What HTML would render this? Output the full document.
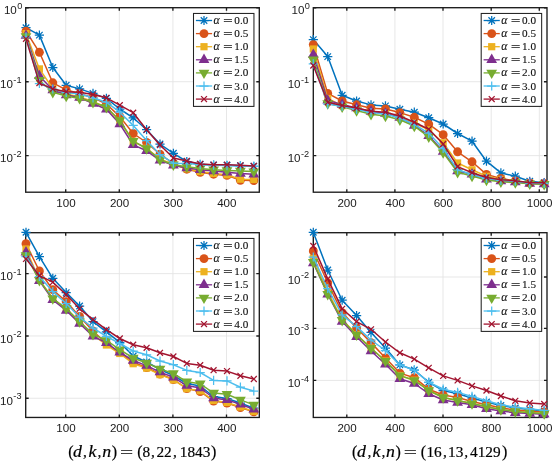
<!DOCTYPE html>
<html><head><meta charset="utf-8"><title>plots</title>
<style>
html,body{margin:0;padding:0;background:#fff}
svg{display:block}
.t{font-family:"Liberation Sans",sans-serif;font-size:11.6px;fill:#1a1a1a}
.s{font-family:"Liberation Sans",sans-serif;font-size:9.2px;fill:#1a1a1a}
.l{font-family:"Liberation Serif",serif;font-size:11.2px;fill:#111;stroke:#111;stroke-width:0.12px}
.a{font-style:italic;font-size:11.8px}
.e{font-size:13px}
.c{font-family:"Liberation Serif",serif;font-size:15.3px;fill:#000;stroke:#000;stroke-width:0.2px}
.p{font-size:16px}
.i{font-style:italic;font-size:16.2px}
</style></head><body>
<svg width="553" height="462" viewBox="0 0 553 462">
<rect width="553" height="462" fill="#fff"/>
<path d="M65.7 7.7V192.2" stroke="#e3e3e3" stroke-width="0.85" fill="none"/>
<path d="M119.3 7.7V192.2" stroke="#e3e3e3" stroke-width="0.85" fill="none"/>
<path d="M172.9 7.7V192.2" stroke="#e3e3e3" stroke-width="0.85" fill="none"/>
<path d="M226.5 7.7V192.2" stroke="#e3e3e3" stroke-width="0.85" fill="none"/>
<path d="M25.7 81.7H259.3" stroke="#e3e3e3" stroke-width="0.85" fill="none"/>
<path d="M25.7 155.6H259.3" stroke="#e3e3e3" stroke-width="0.85" fill="none"/>
<rect x="25.7" y="7.7" width="233.60000000000002" height="184.5" fill="none" stroke="#1c1c1c" stroke-width="1.35"/>
<path d="M65.7 192.2v-3.0M65.7 7.7v3.0" stroke="#1c1c1c" stroke-width="1.35" fill="none"/>
<text x="66.0" y="207.00" class="t" text-anchor="middle">100</text>
<path d="M119.3 192.2v-3.0M119.3 7.7v3.0" stroke="#1c1c1c" stroke-width="1.35" fill="none"/>
<text x="119.6" y="207.00" class="t" text-anchor="middle">200</text>
<path d="M172.9 192.2v-3.0M172.9 7.7v3.0" stroke="#1c1c1c" stroke-width="1.35" fill="none"/>
<text x="173.20000000000002" y="207.00" class="t" text-anchor="middle">300</text>
<path d="M226.5 192.2v-3.0M226.5 7.7v3.0" stroke="#1c1c1c" stroke-width="1.35" fill="none"/>
<text x="226.8" y="207.00" class="t" text-anchor="middle">400</text>
<path d="M25.7 7.7h3.0M259.3 7.7h-3.0" stroke="#1c1c1c" stroke-width="1.35" fill="none"/>
<text x="16.83" y="14.30" class="t" text-anchor="end">10</text>
<text x="22.30" y="8.90" class="s" text-anchor="end">0</text>
<path d="M25.7 81.7h3.0M259.3 81.7h-3.0" stroke="#1c1c1c" stroke-width="1.35" fill="none"/>
<text x="12.97" y="88.30" class="t" text-anchor="end">10</text>
<text x="21.50" y="82.90" class="s" text-anchor="end">-1</text>
<path d="M25.7 155.6h3.0M259.3 155.6h-3.0" stroke="#1c1c1c" stroke-width="1.35" fill="none"/>
<text x="12.97" y="162.20" class="t" text-anchor="end">10</text>
<text x="21.50" y="156.80" class="s" text-anchor="end">-2</text>
<polyline points="26.0,27.7 39.4,35.1 52.8,67.5 66.2,85.3 79.6,88.9 93.0,93.4 106.4,98.4 119.8,109 133.2,117.8 146.6,129.7 160.0,144 173.4,153.3 186.8,161.5 200.2,164.3 213.6,165 227.0,165.3 240.4,165.8 253.8,166.3" fill="none" stroke="#0072BD" stroke-width="1.5" stroke-linejoin="round"/>
<path d="M21.4 27.7H30.6M26.0 23.1V32.3M22.75 24.45L29.25 30.95M22.75 30.95L29.25 24.45" stroke="#0072BD" stroke-width="1.25" fill="none"/>
<path d="M34.8 35.1H44.0M39.4 30.5V39.7M36.15 31.85L42.65 38.35M36.15 38.35L42.65 31.85" stroke="#0072BD" stroke-width="1.25" fill="none"/>
<path d="M48.199999999999996 67.5H57.4M52.8 62.9V72.1M49.55 64.25L56.05 70.75M49.55 70.75L56.05 64.25" stroke="#0072BD" stroke-width="1.25" fill="none"/>
<path d="M61.6 85.3H70.8M66.2 80.7V89.89999999999999M62.95 82.05L69.45 88.55M62.95 88.55L69.45 82.05" stroke="#0072BD" stroke-width="1.25" fill="none"/>
<path d="M75.0 88.9H84.19999999999999M79.6 84.30000000000001V93.5M76.35 85.65L82.85 92.15M76.35 92.15L82.85 85.65" stroke="#0072BD" stroke-width="1.25" fill="none"/>
<path d="M88.4 93.4H97.6M93.0 88.80000000000001V98.0M89.75 90.15L96.25 96.65M89.75 96.65L96.25 90.15" stroke="#0072BD" stroke-width="1.25" fill="none"/>
<path d="M101.80000000000001 98.4H111.0M106.4 93.80000000000001V103.0M103.15 95.15L109.65 101.65M103.15 101.65L109.65 95.15" stroke="#0072BD" stroke-width="1.25" fill="none"/>
<path d="M115.2 109H124.39999999999999M119.8 104.4V113.6M116.55 105.75L123.05 112.25M116.55 112.25L123.05 105.75" stroke="#0072BD" stroke-width="1.25" fill="none"/>
<path d="M128.6 117.8H137.79999999999998M133.2 113.2V122.39999999999999M129.95 114.55L136.45 121.05M129.95 121.05L136.45 114.55" stroke="#0072BD" stroke-width="1.25" fill="none"/>
<path d="M142.0 129.7H151.2M146.6 125.1V134.29999999999998M143.35 126.44999999999999L149.85 132.95M143.35 132.95L149.85 126.44999999999999" stroke="#0072BD" stroke-width="1.25" fill="none"/>
<path d="M155.4 144H164.6M160.0 139.4V148.6M156.75 140.75L163.25 147.25M156.75 147.25L163.25 140.75" stroke="#0072BD" stroke-width="1.25" fill="none"/>
<path d="M168.8 153.3H178.0M173.4 148.70000000000002V157.9M170.15 150.05L176.65 156.55M170.15 156.55L176.65 150.05" stroke="#0072BD" stroke-width="1.25" fill="none"/>
<path d="M182.20000000000002 161.5H191.4M186.8 156.9V166.1M183.55 158.25L190.05 164.75M183.55 164.75L190.05 158.25" stroke="#0072BD" stroke-width="1.25" fill="none"/>
<path d="M195.6 164.3H204.79999999999998M200.2 159.70000000000002V168.9M196.95 161.05L203.45 167.55M196.95 167.55L203.45 161.05" stroke="#0072BD" stroke-width="1.25" fill="none"/>
<path d="M209.0 165H218.2M213.6 160.4V169.6M210.35 161.75L216.85 168.25M210.35 168.25L216.85 161.75" stroke="#0072BD" stroke-width="1.25" fill="none"/>
<path d="M222.4 165.3H231.6M227.0 160.70000000000002V169.9M223.75 162.05L230.25 168.55M223.75 168.55L230.25 162.05" stroke="#0072BD" stroke-width="1.25" fill="none"/>
<path d="M235.8 165.8H245.0M240.4 161.20000000000002V170.4M237.15 162.55L243.65 169.05M237.15 169.05L243.65 162.55" stroke="#0072BD" stroke-width="1.25" fill="none"/>
<path d="M249.20000000000002 166.3H258.40000000000003M253.8 161.70000000000002V170.9M250.55 163.05L257.05 169.55M250.55 169.55L257.05 163.05" stroke="#0072BD" stroke-width="1.25" fill="none"/>
<polyline points="26.0,31.2 39.4,52.3 52.8,82.8 66.2,89.8 79.6,93.8 93.0,97.5 106.4,104 119.8,116.6 133.2,133.5 146.6,142.5 160.0,154.2 173.4,163.5 186.8,169.2 200.2,172.3 213.6,174.2 227.0,175.4 240.4,180.3 253.8,180.5" fill="none" stroke="#D95319" stroke-width="1.5" stroke-linejoin="round"/>
<circle cx="26.0" cy="31.2" r="4.45" fill="#D95319"/>
<circle cx="39.4" cy="52.3" r="4.45" fill="#D95319"/>
<circle cx="52.8" cy="82.8" r="4.45" fill="#D95319"/>
<circle cx="66.2" cy="89.8" r="4.45" fill="#D95319"/>
<circle cx="79.6" cy="93.8" r="4.45" fill="#D95319"/>
<circle cx="93.0" cy="97.5" r="4.45" fill="#D95319"/>
<circle cx="106.4" cy="104" r="4.45" fill="#D95319"/>
<circle cx="119.8" cy="116.6" r="4.45" fill="#D95319"/>
<circle cx="133.2" cy="133.5" r="4.45" fill="#D95319"/>
<circle cx="146.6" cy="142.5" r="4.45" fill="#D95319"/>
<circle cx="160.0" cy="154.2" r="4.45" fill="#D95319"/>
<circle cx="173.4" cy="163.5" r="4.45" fill="#D95319"/>
<circle cx="186.8" cy="169.2" r="4.45" fill="#D95319"/>
<circle cx="200.2" cy="172.3" r="4.45" fill="#D95319"/>
<circle cx="213.6" cy="174.2" r="4.45" fill="#D95319"/>
<circle cx="227.0" cy="175.4" r="4.45" fill="#D95319"/>
<circle cx="240.4" cy="180.3" r="4.45" fill="#D95319"/>
<circle cx="253.8" cy="180.5" r="4.45" fill="#D95319"/>
<polyline points="26.0,33.6 39.4,68.9 52.8,88.5 66.2,94 79.6,97 93.0,101.5 106.4,107.5 119.8,121 133.2,141.3 146.6,148.3 160.0,159 173.4,164.5 186.8,168.8 200.2,171.6 213.6,173.5 227.0,174.8 240.4,179.2 253.8,179.5" fill="none" stroke="#EDB120" stroke-width="1.5" stroke-linejoin="round"/>
<rect x="22.4" y="30.0" width="7.2" height="7.2" fill="#EDB120"/>
<rect x="35.8" y="65.30000000000001" width="7.2" height="7.2" fill="#EDB120"/>
<rect x="49.199999999999996" y="84.9" width="7.2" height="7.2" fill="#EDB120"/>
<rect x="62.6" y="90.4" width="7.2" height="7.2" fill="#EDB120"/>
<rect x="76.0" y="93.4" width="7.2" height="7.2" fill="#EDB120"/>
<rect x="89.4" y="97.9" width="7.2" height="7.2" fill="#EDB120"/>
<rect x="102.80000000000001" y="103.9" width="7.2" height="7.2" fill="#EDB120"/>
<rect x="116.2" y="117.4" width="7.2" height="7.2" fill="#EDB120"/>
<rect x="129.6" y="137.70000000000002" width="7.2" height="7.2" fill="#EDB120"/>
<rect x="143.0" y="144.70000000000002" width="7.2" height="7.2" fill="#EDB120"/>
<rect x="156.4" y="155.4" width="7.2" height="7.2" fill="#EDB120"/>
<rect x="169.8" y="160.9" width="7.2" height="7.2" fill="#EDB120"/>
<rect x="183.20000000000002" y="165.20000000000002" width="7.2" height="7.2" fill="#EDB120"/>
<rect x="196.6" y="168.0" width="7.2" height="7.2" fill="#EDB120"/>
<rect x="210.0" y="169.9" width="7.2" height="7.2" fill="#EDB120"/>
<rect x="223.4" y="171.20000000000002" width="7.2" height="7.2" fill="#EDB120"/>
<rect x="236.8" y="175.6" width="7.2" height="7.2" fill="#EDB120"/>
<rect x="250.20000000000002" y="175.9" width="7.2" height="7.2" fill="#EDB120"/>
<polyline points="26.0,35.6 39.4,75.9 52.8,90 66.2,95 79.6,97.5 93.0,103.5 106.4,109.2 119.8,124 133.2,144.9 146.6,150.8 160.0,160.4 173.4,165.2 186.8,168 200.2,169.8 213.6,171 227.0,172.3 240.4,173.5 253.8,174.2" fill="none" stroke="#7E2F8E" stroke-width="1.5" stroke-linejoin="round"/>
<path d="M26.0 29.400000000000002L31.4 38.800000000000004H20.6Z" fill="#7E2F8E"/>
<path d="M39.4 69.7L44.8 79.10000000000001H34.0Z" fill="#7E2F8E"/>
<path d="M52.8 83.8L58.199999999999996 93.2H47.4Z" fill="#7E2F8E"/>
<path d="M66.2 88.8L71.60000000000001 98.2H60.800000000000004Z" fill="#7E2F8E"/>
<path d="M79.6 91.3L85.0 100.7H74.19999999999999Z" fill="#7E2F8E"/>
<path d="M93.0 97.3L98.4 106.7H87.6Z" fill="#7E2F8E"/>
<path d="M106.4 103.0L111.80000000000001 112.4H101.0Z" fill="#7E2F8E"/>
<path d="M119.8 117.8L125.2 127.2H114.39999999999999Z" fill="#7E2F8E"/>
<path d="M133.2 138.70000000000002L138.6 148.1H127.79999999999998Z" fill="#7E2F8E"/>
<path d="M146.6 144.60000000000002L152.0 154.0H141.2Z" fill="#7E2F8E"/>
<path d="M160.0 154.20000000000002L165.4 163.6H154.6Z" fill="#7E2F8E"/>
<path d="M173.4 159.0L178.8 168.39999999999998H168.0Z" fill="#7E2F8E"/>
<path d="M186.8 161.8L192.20000000000002 171.2H181.4Z" fill="#7E2F8E"/>
<path d="M200.2 163.60000000000002L205.6 173.0H194.79999999999998Z" fill="#7E2F8E"/>
<path d="M213.6 164.8L219.0 174.2H208.2Z" fill="#7E2F8E"/>
<path d="M227.0 166.10000000000002L232.4 175.5H221.6Z" fill="#7E2F8E"/>
<path d="M240.4 167.3L245.8 176.7H235.0Z" fill="#7E2F8E"/>
<path d="M253.8 168.0L259.2 177.39999999999998H248.4Z" fill="#7E2F8E"/>
<polyline points="26.0,36.4 39.4,80.3 52.8,92.3 66.2,96 79.6,98.4 93.0,102.2 106.4,107.3 119.8,120.5 133.2,141.1 146.6,148.5 160.0,159.7 173.4,164.8 186.8,166.7 200.2,168.5 213.6,169.7 227.0,170.4 240.4,171 253.8,171.6" fill="none" stroke="#77AC30" stroke-width="1.5" stroke-linejoin="round"/>
<path d="M26.0 42.6L31.4 33.199999999999996H20.6Z" fill="#77AC30"/>
<path d="M39.4 86.5L44.8 77.1H34.0Z" fill="#77AC30"/>
<path d="M52.8 98.5L58.199999999999996 89.1H47.4Z" fill="#77AC30"/>
<path d="M66.2 102.2L71.60000000000001 92.8H60.800000000000004Z" fill="#77AC30"/>
<path d="M79.6 104.60000000000001L85.0 95.2H74.19999999999999Z" fill="#77AC30"/>
<path d="M93.0 108.4L98.4 99.0H87.6Z" fill="#77AC30"/>
<path d="M106.4 113.5L111.80000000000001 104.1H101.0Z" fill="#77AC30"/>
<path d="M119.8 126.7L125.2 117.3H114.39999999999999Z" fill="#77AC30"/>
<path d="M133.2 147.29999999999998L138.6 137.9H127.79999999999998Z" fill="#77AC30"/>
<path d="M146.6 154.7L152.0 145.3H141.2Z" fill="#77AC30"/>
<path d="M160.0 165.89999999999998L165.4 156.5H154.6Z" fill="#77AC30"/>
<path d="M173.4 171.0L178.8 161.60000000000002H168.0Z" fill="#77AC30"/>
<path d="M186.8 172.89999999999998L192.20000000000002 163.5H181.4Z" fill="#77AC30"/>
<path d="M200.2 174.7L205.6 165.3H194.79999999999998Z" fill="#77AC30"/>
<path d="M213.6 175.89999999999998L219.0 166.5H208.2Z" fill="#77AC30"/>
<path d="M227.0 176.6L232.4 167.20000000000002H221.6Z" fill="#77AC30"/>
<path d="M240.4 177.2L245.8 167.8H235.0Z" fill="#77AC30"/>
<path d="M253.8 177.79999999999998L259.2 168.4H248.4Z" fill="#77AC30"/>
<polyline points="26.0,36.9 39.4,83.5 52.8,89 66.2,92.5 79.6,94 93.0,97.8 106.4,102.2 119.8,112.2 133.2,125.4 146.6,140.6 160.0,154.6 173.4,163.2 186.8,163.5 200.2,164.6 213.6,165.2 227.0,165.6 240.4,166 253.8,166.4" fill="none" stroke="#4DBEEE" stroke-width="1.5" stroke-linejoin="round"/>
<path d="M21.4 36.9H30.6M26.0 32.3V41.5" stroke="#4DBEEE" stroke-width="1.25" fill="none"/>
<path d="M34.8 83.5H44.0M39.4 78.9V88.1" stroke="#4DBEEE" stroke-width="1.25" fill="none"/>
<path d="M48.199999999999996 89H57.4M52.8 84.4V93.6" stroke="#4DBEEE" stroke-width="1.25" fill="none"/>
<path d="M61.6 92.5H70.8M66.2 87.9V97.1" stroke="#4DBEEE" stroke-width="1.25" fill="none"/>
<path d="M75.0 94H84.19999999999999M79.6 89.4V98.6" stroke="#4DBEEE" stroke-width="1.25" fill="none"/>
<path d="M88.4 97.8H97.6M93.0 93.2V102.39999999999999" stroke="#4DBEEE" stroke-width="1.25" fill="none"/>
<path d="M101.80000000000001 102.2H111.0M106.4 97.60000000000001V106.8" stroke="#4DBEEE" stroke-width="1.25" fill="none"/>
<path d="M115.2 112.2H124.39999999999999M119.8 107.60000000000001V116.8" stroke="#4DBEEE" stroke-width="1.25" fill="none"/>
<path d="M128.6 125.4H137.79999999999998M133.2 120.80000000000001V130.0" stroke="#4DBEEE" stroke-width="1.25" fill="none"/>
<path d="M142.0 140.6H151.2M146.6 136.0V145.2" stroke="#4DBEEE" stroke-width="1.25" fill="none"/>
<path d="M155.4 154.6H164.6M160.0 150.0V159.2" stroke="#4DBEEE" stroke-width="1.25" fill="none"/>
<path d="M168.8 163.2H178.0M173.4 158.6V167.79999999999998" stroke="#4DBEEE" stroke-width="1.25" fill="none"/>
<path d="M182.20000000000002 163.5H191.4M186.8 158.9V168.1" stroke="#4DBEEE" stroke-width="1.25" fill="none"/>
<path d="M195.6 164.6H204.79999999999998M200.2 160.0V169.2" stroke="#4DBEEE" stroke-width="1.25" fill="none"/>
<path d="M209.0 165.2H218.2M213.6 160.6V169.79999999999998" stroke="#4DBEEE" stroke-width="1.25" fill="none"/>
<path d="M222.4 165.6H231.6M227.0 161.0V170.2" stroke="#4DBEEE" stroke-width="1.25" fill="none"/>
<path d="M235.8 166H245.0M240.4 161.4V170.6" stroke="#4DBEEE" stroke-width="1.25" fill="none"/>
<path d="M249.20000000000002 166.4H258.40000000000003M253.8 161.8V171.0" stroke="#4DBEEE" stroke-width="1.25" fill="none"/>
<polyline points="26.0,38.8 39.4,83.1 52.8,88.9 66.2,91.7 79.6,92.2 93.0,94.6 106.4,97.8 119.8,105.2 133.2,112.7 146.6,129.7 160.0,145 173.4,158 186.8,161 200.2,164 213.6,164.7 227.0,164.7 240.4,165.3 253.8,165.9" fill="none" stroke="#A2142F" stroke-width="1.5" stroke-linejoin="round"/>
<path d="M23.05 35.849999999999994L28.95 41.75M23.05 41.75L28.95 35.849999999999994" stroke="#A2142F" stroke-width="1.25" fill="none"/>
<path d="M36.449999999999996 80.14999999999999L42.35 86.05M36.449999999999996 86.05L42.35 80.14999999999999" stroke="#A2142F" stroke-width="1.25" fill="none"/>
<path d="M49.849999999999994 85.95L55.75 91.85000000000001M49.849999999999994 91.85000000000001L55.75 85.95" stroke="#A2142F" stroke-width="1.25" fill="none"/>
<path d="M63.25 88.75L69.15 94.65M63.25 94.65L69.15 88.75" stroke="#A2142F" stroke-width="1.25" fill="none"/>
<path d="M76.64999999999999 89.25L82.55 95.15M76.64999999999999 95.15L82.55 89.25" stroke="#A2142F" stroke-width="1.25" fill="none"/>
<path d="M90.05 91.64999999999999L95.95 97.55M90.05 97.55L95.95 91.64999999999999" stroke="#A2142F" stroke-width="1.25" fill="none"/>
<path d="M103.45 94.85L109.35000000000001 100.75M103.45 100.75L109.35000000000001 94.85" stroke="#A2142F" stroke-width="1.25" fill="none"/>
<path d="M116.85 102.25L122.75 108.15M116.85 108.15L122.75 102.25" stroke="#A2142F" stroke-width="1.25" fill="none"/>
<path d="M130.25 109.75L136.14999999999998 115.65M130.25 115.65L136.14999999999998 109.75" stroke="#A2142F" stroke-width="1.25" fill="none"/>
<path d="M143.65 126.74999999999999L149.54999999999998 132.64999999999998M143.65 132.64999999999998L149.54999999999998 126.74999999999999" stroke="#A2142F" stroke-width="1.25" fill="none"/>
<path d="M157.05 142.05L162.95 147.95M157.05 147.95L162.95 142.05" stroke="#A2142F" stroke-width="1.25" fill="none"/>
<path d="M170.45000000000002 155.05L176.35 160.95M170.45000000000002 160.95L176.35 155.05" stroke="#A2142F" stroke-width="1.25" fill="none"/>
<path d="M183.85000000000002 158.05L189.75 163.95M183.85000000000002 163.95L189.75 158.05" stroke="#A2142F" stroke-width="1.25" fill="none"/>
<path d="M197.25 161.05L203.14999999999998 166.95M197.25 166.95L203.14999999999998 161.05" stroke="#A2142F" stroke-width="1.25" fill="none"/>
<path d="M210.65 161.75L216.54999999999998 167.64999999999998M210.65 167.64999999999998L216.54999999999998 161.75" stroke="#A2142F" stroke-width="1.25" fill="none"/>
<path d="M224.05 161.75L229.95 167.64999999999998M224.05 167.64999999999998L229.95 161.75" stroke="#A2142F" stroke-width="1.25" fill="none"/>
<path d="M237.45000000000002 162.35000000000002L243.35 168.25M237.45000000000002 168.25L243.35 162.35000000000002" stroke="#A2142F" stroke-width="1.25" fill="none"/>
<path d="M250.85000000000002 162.95000000000002L256.75 168.85M250.85000000000002 168.85L256.75 162.95000000000002" stroke="#A2142F" stroke-width="1.25" fill="none"/>
<rect x="193.5" y="13.45" width="60.45" height="92.95" fill="#fff" stroke="#222" stroke-width="1.05"/>
<path d="M195.9 20.5H212.1" stroke="#0072BD" stroke-width="1.3" fill="none"/>
<path d="M199.4 20.5H208.6M204.0 15.9V25.1M200.75 17.25L207.25 23.75M200.75 23.75L207.25 17.25" stroke="#0072BD" stroke-width="1.25" fill="none"/>
<text x="213.50" y="24.00" class="l a">α</text><text x="223.20" y="24.00" class="l" style="stroke-width:0.25px" textLength="9.27" lengthAdjust="spacingAndGlyphs">=</text><text x="234.30" y="24.00" class="l">0.0</text>
<path d="M195.9 33.6H212.1" stroke="#D95319" stroke-width="1.3" fill="none"/>
<circle cx="204.0" cy="33.6" r="4.45" fill="#D95319"/>
<text x="213.50" y="37.10" class="l a">α</text><text x="223.20" y="37.10" class="l" style="stroke-width:0.25px" textLength="9.27" lengthAdjust="spacingAndGlyphs">=</text><text x="234.30" y="37.10" class="l">0.5</text>
<path d="M195.9 46.7H212.1" stroke="#EDB120" stroke-width="1.3" fill="none"/>
<rect x="200.4" y="43.1" width="7.2" height="7.2" fill="#EDB120"/>
<text x="213.50" y="50.20" class="l a">α</text><text x="223.20" y="50.20" class="l" style="stroke-width:0.25px" textLength="9.27" lengthAdjust="spacingAndGlyphs">=</text><text x="234.30" y="50.20" class="l">1.0</text>
<path d="M195.9 59.8H212.1" stroke="#7E2F8E" stroke-width="1.3" fill="none"/>
<path d="M204.0 53.599999999999994L209.4 63.0H198.6Z" fill="#7E2F8E"/>
<text x="213.50" y="63.30" class="l a">α</text><text x="223.20" y="63.30" class="l" style="stroke-width:0.25px" textLength="9.27" lengthAdjust="spacingAndGlyphs">=</text><text x="234.30" y="63.30" class="l">1.5</text>
<path d="M195.9 72.9H212.1" stroke="#77AC30" stroke-width="1.3" fill="none"/>
<path d="M204.0 79.10000000000001L209.4 69.7H198.6Z" fill="#77AC30"/>
<text x="213.50" y="76.40" class="l a">α</text><text x="223.20" y="76.40" class="l" style="stroke-width:0.25px" textLength="9.27" lengthAdjust="spacingAndGlyphs">=</text><text x="234.30" y="76.40" class="l">2.0</text>
<path d="M195.9 86.0H212.1" stroke="#4DBEEE" stroke-width="1.3" fill="none"/>
<path d="M199.4 86.0H208.6M204.0 81.4V90.6" stroke="#4DBEEE" stroke-width="1.25" fill="none"/>
<text x="213.50" y="89.50" class="l a">α</text><text x="223.20" y="89.50" class="l" style="stroke-width:0.25px" textLength="9.27" lengthAdjust="spacingAndGlyphs">=</text><text x="234.30" y="89.50" class="l">3.0</text>
<path d="M195.9 99.1H212.1" stroke="#A2142F" stroke-width="1.3" fill="none"/>
<path d="M201.05 96.14999999999999L206.95 102.05M201.05 102.05L206.95 96.14999999999999" stroke="#A2142F" stroke-width="1.25" fill="none"/>
<text x="213.50" y="102.60" class="l a">α</text><text x="223.20" y="102.60" class="l" style="stroke-width:0.25px" textLength="9.27" lengthAdjust="spacingAndGlyphs">=</text><text x="234.30" y="102.60" class="l">4.0</text>
<path d="M346.8 7.7V192.2" stroke="#e3e3e3" stroke-width="0.85" fill="none"/>
<path d="M394.9 7.7V192.2" stroke="#e3e3e3" stroke-width="0.85" fill="none"/>
<path d="M443.0 7.7V192.2" stroke="#e3e3e3" stroke-width="0.85" fill="none"/>
<path d="M491.2 7.7V192.2" stroke="#e3e3e3" stroke-width="0.85" fill="none"/>
<path d="M539.3 7.7V192.2" stroke="#e3e3e3" stroke-width="0.85" fill="none"/>
<path d="M313.3 81.7H547.0" stroke="#e3e3e3" stroke-width="0.85" fill="none"/>
<path d="M313.3 155.6H547.0" stroke="#e3e3e3" stroke-width="0.85" fill="none"/>
<rect x="313.3" y="7.7" width="233.7" height="184.5" fill="none" stroke="#1c1c1c" stroke-width="1.35"/>
<path d="M346.8 192.2v-3.0M346.8 7.7v3.0" stroke="#1c1c1c" stroke-width="1.35" fill="none"/>
<text x="347.1" y="207.00" class="t" text-anchor="middle">200</text>
<path d="M394.9 192.2v-3.0M394.9 7.7v3.0" stroke="#1c1c1c" stroke-width="1.35" fill="none"/>
<text x="395.2" y="207.00" class="t" text-anchor="middle">400</text>
<path d="M443.0 192.2v-3.0M443.0 7.7v3.0" stroke="#1c1c1c" stroke-width="1.35" fill="none"/>
<text x="443.3" y="207.00" class="t" text-anchor="middle">600</text>
<path d="M491.2 192.2v-3.0M491.2 7.7v3.0" stroke="#1c1c1c" stroke-width="1.35" fill="none"/>
<text x="491.5" y="207.00" class="t" text-anchor="middle">800</text>
<path d="M539.3 192.2v-3.0M539.3 7.7v3.0" stroke="#1c1c1c" stroke-width="1.35" fill="none"/>
<text x="539.5999999999999" y="207.00" class="t" text-anchor="middle">1000</text>
<path d="M313.3 7.7h3.0M547.0 7.7h-3.0" stroke="#1c1c1c" stroke-width="1.35" fill="none"/>
<text x="304.43" y="14.30" class="t" text-anchor="end">10</text>
<text x="309.90" y="8.90" class="s" text-anchor="end">0</text>
<path d="M313.3 81.7h3.0M547.0 81.7h-3.0" stroke="#1c1c1c" stroke-width="1.35" fill="none"/>
<text x="300.57" y="88.30" class="t" text-anchor="end">10</text>
<text x="309.10" y="82.90" class="s" text-anchor="end">-1</text>
<path d="M313.3 155.6h3.0M547.0 155.6h-3.0" stroke="#1c1c1c" stroke-width="1.35" fill="none"/>
<text x="300.57" y="162.20" class="t" text-anchor="end">10</text>
<text x="309.10" y="156.80" class="s" text-anchor="end">-2</text>
<polyline points="313.3,39.6 327.73,56.6 342.16,95.3 356.59,101 371.02,104.9 385.45,105.9 399.88,109.3 414.31,112.2 428.74,117.7 443.17,124 457.6,133.5 472.03,141.2 486.46,161.2 500.89,172.9 515.32,176.2 529.75,181.3 544.18,182.8" fill="none" stroke="#0072BD" stroke-width="1.5" stroke-linejoin="round"/>
<path d="M308.7 39.6H317.90000000000003M313.3 35.0V44.2M310.05 36.35L316.55 42.85M310.05 42.85L316.55 36.35" stroke="#0072BD" stroke-width="1.25" fill="none"/>
<path d="M323.13 56.6H332.33000000000004M327.73 52.0V61.2M324.48 53.35L330.98 59.85M324.48 59.85L330.98 53.35" stroke="#0072BD" stroke-width="1.25" fill="none"/>
<path d="M337.56 95.3H346.76000000000005M342.16 90.7V99.89999999999999M338.91 92.05L345.41 98.55M338.91 98.55L345.41 92.05" stroke="#0072BD" stroke-width="1.25" fill="none"/>
<path d="M351.98999999999995 101H361.19M356.59 96.4V105.6M353.34 97.75L359.84 104.25M353.34 104.25L359.84 97.75" stroke="#0072BD" stroke-width="1.25" fill="none"/>
<path d="M366.41999999999996 104.9H375.62M371.02 100.30000000000001V109.5M367.77 101.65L374.27 108.15M367.77 108.15L374.27 101.65" stroke="#0072BD" stroke-width="1.25" fill="none"/>
<path d="M380.84999999999997 105.9H390.05M385.45 101.30000000000001V110.5M382.2 102.65L388.7 109.15M382.2 109.15L388.7 102.65" stroke="#0072BD" stroke-width="1.25" fill="none"/>
<path d="M395.28 109.3H404.48M399.88 104.7V113.89999999999999M396.63 106.05L403.13 112.55M396.63 112.55L403.13 106.05" stroke="#0072BD" stroke-width="1.25" fill="none"/>
<path d="M409.71 112.2H418.91M414.31 107.60000000000001V116.8M411.06 108.95L417.56 115.45M411.06 115.45L417.56 108.95" stroke="#0072BD" stroke-width="1.25" fill="none"/>
<path d="M424.14 117.7H433.34000000000003M428.74 113.10000000000001V122.3M425.49 114.45L431.99 120.95M425.49 120.95L431.99 114.45" stroke="#0072BD" stroke-width="1.25" fill="none"/>
<path d="M438.57 124H447.77000000000004M443.17 119.4V128.6M439.92 120.75L446.42 127.25M439.92 127.25L446.42 120.75" stroke="#0072BD" stroke-width="1.25" fill="none"/>
<path d="M453.0 133.5H462.20000000000005M457.6 128.9V138.1M454.35 130.25L460.85 136.75M454.35 136.75L460.85 130.25" stroke="#0072BD" stroke-width="1.25" fill="none"/>
<path d="M467.42999999999995 141.2H476.63M472.03 136.6V145.79999999999998M468.78 137.95L475.28 144.45M468.78 144.45L475.28 137.95" stroke="#0072BD" stroke-width="1.25" fill="none"/>
<path d="M481.85999999999996 161.2H491.06M486.46 156.6V165.79999999999998M483.21 157.95L489.71 164.45M483.21 164.45L489.71 157.95" stroke="#0072BD" stroke-width="1.25" fill="none"/>
<path d="M496.28999999999996 172.9H505.49M500.89 168.3V177.5M497.64 169.65L504.14 176.15M497.64 176.15L504.14 169.65" stroke="#0072BD" stroke-width="1.25" fill="none"/>
<path d="M510.72 176.2H519.9200000000001M515.32 171.6V180.79999999999998M512.07 172.95L518.57 179.45M512.07 179.45L518.57 172.95" stroke="#0072BD" stroke-width="1.25" fill="none"/>
<path d="M525.15 181.3H534.35M529.75 176.70000000000002V185.9M526.5 178.05L533.0 184.55M526.5 184.55L533.0 178.05" stroke="#0072BD" stroke-width="1.25" fill="none"/>
<path d="M539.5799999999999 182.8H548.78M544.18 178.20000000000002V187.4M540.93 179.55L547.43 186.05M540.93 186.05L547.43 179.55" stroke="#0072BD" stroke-width="1.25" fill="none"/>
<polyline points="313.3,44.6 327.73,93.4 342.16,101 356.59,104.8 371.02,108.2 385.45,109 399.88,112.6 414.31,117.3 428.74,124.1 443.17,134.7 457.6,151.8 472.03,161.8 486.46,174.4 500.89,178.5 515.32,181 529.75,183.2 544.18,183.4" fill="none" stroke="#D95319" stroke-width="1.5" stroke-linejoin="round"/>
<circle cx="313.3" cy="44.6" r="4.45" fill="#D95319"/>
<circle cx="327.73" cy="93.4" r="4.45" fill="#D95319"/>
<circle cx="342.16" cy="101" r="4.45" fill="#D95319"/>
<circle cx="356.59" cy="104.8" r="4.45" fill="#D95319"/>
<circle cx="371.02" cy="108.2" r="4.45" fill="#D95319"/>
<circle cx="385.45" cy="109" r="4.45" fill="#D95319"/>
<circle cx="399.88" cy="112.6" r="4.45" fill="#D95319"/>
<circle cx="414.31" cy="117.3" r="4.45" fill="#D95319"/>
<circle cx="428.74" cy="124.1" r="4.45" fill="#D95319"/>
<circle cx="443.17" cy="134.7" r="4.45" fill="#D95319"/>
<circle cx="457.6" cy="151.8" r="4.45" fill="#D95319"/>
<circle cx="472.03" cy="161.8" r="4.45" fill="#D95319"/>
<circle cx="486.46" cy="174.4" r="4.45" fill="#D95319"/>
<circle cx="500.89" cy="178.5" r="4.45" fill="#D95319"/>
<circle cx="515.32" cy="181" r="4.45" fill="#D95319"/>
<circle cx="529.75" cy="183.2" r="4.45" fill="#D95319"/>
<circle cx="544.18" cy="183.4" r="4.45" fill="#D95319"/>
<polyline points="313.3,49 327.73,98.5 342.16,105.6 356.59,108.6 371.02,112 385.45,113 399.88,116.8 414.31,123 428.74,129.8 443.17,142.8 457.6,163 472.03,169.8 486.46,176.3 500.89,179.4 515.32,181.3 529.75,183.2 544.18,183.5" fill="none" stroke="#EDB120" stroke-width="1.5" stroke-linejoin="round"/>
<rect x="309.7" y="45.4" width="7.2" height="7.2" fill="#EDB120"/>
<rect x="324.13" y="94.9" width="7.2" height="7.2" fill="#EDB120"/>
<rect x="338.56" y="102.0" width="7.2" height="7.2" fill="#EDB120"/>
<rect x="352.98999999999995" y="105.0" width="7.2" height="7.2" fill="#EDB120"/>
<rect x="367.41999999999996" y="108.4" width="7.2" height="7.2" fill="#EDB120"/>
<rect x="381.84999999999997" y="109.4" width="7.2" height="7.2" fill="#EDB120"/>
<rect x="396.28" y="113.2" width="7.2" height="7.2" fill="#EDB120"/>
<rect x="410.71" y="119.4" width="7.2" height="7.2" fill="#EDB120"/>
<rect x="425.14" y="126.20000000000002" width="7.2" height="7.2" fill="#EDB120"/>
<rect x="439.57" y="139.20000000000002" width="7.2" height="7.2" fill="#EDB120"/>
<rect x="454.0" y="159.4" width="7.2" height="7.2" fill="#EDB120"/>
<rect x="468.42999999999995" y="166.20000000000002" width="7.2" height="7.2" fill="#EDB120"/>
<rect x="482.85999999999996" y="172.70000000000002" width="7.2" height="7.2" fill="#EDB120"/>
<rect x="497.28999999999996" y="175.8" width="7.2" height="7.2" fill="#EDB120"/>
<rect x="511.72" y="177.70000000000002" width="7.2" height="7.2" fill="#EDB120"/>
<rect x="526.15" y="179.6" width="7.2" height="7.2" fill="#EDB120"/>
<rect x="540.5799999999999" y="179.9" width="7.2" height="7.2" fill="#EDB120"/>
<polyline points="313.3,54.6 327.73,100.4 342.16,104.5 356.59,108 371.02,111.5 385.45,113.5 399.88,117.5 414.31,125.5 428.74,135.7 443.17,151.6 457.6,171 472.03,174.2 486.46,179.3 500.89,181 515.32,182 529.75,183.5 544.18,184" fill="none" stroke="#7E2F8E" stroke-width="1.5" stroke-linejoin="round"/>
<path d="M313.3 48.4L318.7 57.800000000000004H307.90000000000003Z" fill="#7E2F8E"/>
<path d="M327.73 94.2L333.13 103.60000000000001H322.33000000000004Z" fill="#7E2F8E"/>
<path d="M342.16 98.3L347.56 107.7H336.76000000000005Z" fill="#7E2F8E"/>
<path d="M356.59 101.8L361.98999999999995 111.2H351.19Z" fill="#7E2F8E"/>
<path d="M371.02 105.3L376.41999999999996 114.7H365.62Z" fill="#7E2F8E"/>
<path d="M385.45 107.3L390.84999999999997 116.7H380.05Z" fill="#7E2F8E"/>
<path d="M399.88 111.3L405.28 120.7H394.48Z" fill="#7E2F8E"/>
<path d="M414.31 119.3L419.71 128.7H408.91Z" fill="#7E2F8E"/>
<path d="M428.74 129.5L434.14 138.89999999999998H423.34000000000003Z" fill="#7E2F8E"/>
<path d="M443.17 145.4L448.57 154.79999999999998H437.77000000000004Z" fill="#7E2F8E"/>
<path d="M457.6 164.8L463.0 174.2H452.20000000000005Z" fill="#7E2F8E"/>
<path d="M472.03 168.0L477.42999999999995 177.39999999999998H466.63Z" fill="#7E2F8E"/>
<path d="M486.46 173.10000000000002L491.85999999999996 182.5H481.06Z" fill="#7E2F8E"/>
<path d="M500.89 174.8L506.28999999999996 184.2H495.49Z" fill="#7E2F8E"/>
<path d="M515.32 175.8L520.72 185.2H509.9200000000001Z" fill="#7E2F8E"/>
<path d="M529.75 177.3L535.15 186.7H524.35Z" fill="#7E2F8E"/>
<path d="M544.18 177.8L549.5799999999999 187.2H538.78Z" fill="#7E2F8E"/>
<polyline points="313.3,59.8 327.73,103.5 342.16,106.7 356.59,110.5 371.02,114.2 385.45,116 399.88,119.8 414.31,126.1 428.74,136.8 443.17,152.6 457.6,172.3 472.03,176.1 486.46,180 500.89,181.8 515.32,182.5 529.75,183.8 544.18,184.2" fill="none" stroke="#77AC30" stroke-width="1.5" stroke-linejoin="round"/>
<path d="M313.3 66.0L318.7 56.599999999999994H307.90000000000003Z" fill="#77AC30"/>
<path d="M327.73 109.7L333.13 100.3H322.33000000000004Z" fill="#77AC30"/>
<path d="M342.16 112.9L347.56 103.5H336.76000000000005Z" fill="#77AC30"/>
<path d="M356.59 116.7L361.98999999999995 107.3H351.19Z" fill="#77AC30"/>
<path d="M371.02 120.4L376.41999999999996 111.0H365.62Z" fill="#77AC30"/>
<path d="M385.45 122.2L390.84999999999997 112.8H380.05Z" fill="#77AC30"/>
<path d="M399.88 126.0L405.28 116.6H394.48Z" fill="#77AC30"/>
<path d="M414.31 132.29999999999998L419.71 122.89999999999999H408.91Z" fill="#77AC30"/>
<path d="M428.74 143.0L434.14 133.60000000000002H423.34000000000003Z" fill="#77AC30"/>
<path d="M443.17 158.79999999999998L448.57 149.4H437.77000000000004Z" fill="#77AC30"/>
<path d="M457.6 178.5L463.0 169.10000000000002H452.20000000000005Z" fill="#77AC30"/>
<path d="M472.03 182.29999999999998L477.42999999999995 172.9H466.63Z" fill="#77AC30"/>
<path d="M486.46 186.2L491.85999999999996 176.8H481.06Z" fill="#77AC30"/>
<path d="M500.89 188.0L506.28999999999996 178.60000000000002H495.49Z" fill="#77AC30"/>
<path d="M515.32 188.7L520.72 179.3H509.9200000000001Z" fill="#77AC30"/>
<path d="M529.75 190.0L535.15 180.60000000000002H524.35Z" fill="#77AC30"/>
<path d="M544.18 190.39999999999998L549.5799999999999 181.0H538.78Z" fill="#77AC30"/>
<polyline points="313.3,63.8 327.73,104 342.16,106.2 356.59,109.3 371.02,112.6 385.45,114 399.88,118 414.31,124.5 428.74,133.2 443.17,148.5 457.6,169.8 472.03,174.5 486.46,178.5 500.89,180.3 515.32,181.2 529.75,183 544.18,183.3" fill="none" stroke="#4DBEEE" stroke-width="1.5" stroke-linejoin="round"/>
<path d="M308.7 63.8H317.90000000000003M313.3 59.199999999999996V68.39999999999999" stroke="#4DBEEE" stroke-width="1.25" fill="none"/>
<path d="M323.13 104H332.33000000000004M327.73 99.4V108.6" stroke="#4DBEEE" stroke-width="1.25" fill="none"/>
<path d="M337.56 106.2H346.76000000000005M342.16 101.60000000000001V110.8" stroke="#4DBEEE" stroke-width="1.25" fill="none"/>
<path d="M351.98999999999995 109.3H361.19M356.59 104.7V113.89999999999999" stroke="#4DBEEE" stroke-width="1.25" fill="none"/>
<path d="M366.41999999999996 112.6H375.62M371.02 108.0V117.19999999999999" stroke="#4DBEEE" stroke-width="1.25" fill="none"/>
<path d="M380.84999999999997 114H390.05M385.45 109.4V118.6" stroke="#4DBEEE" stroke-width="1.25" fill="none"/>
<path d="M395.28 118H404.48M399.88 113.4V122.6" stroke="#4DBEEE" stroke-width="1.25" fill="none"/>
<path d="M409.71 124.5H418.91M414.31 119.9V129.1" stroke="#4DBEEE" stroke-width="1.25" fill="none"/>
<path d="M424.14 133.2H433.34000000000003M428.74 128.6V137.79999999999998" stroke="#4DBEEE" stroke-width="1.25" fill="none"/>
<path d="M438.57 148.5H447.77000000000004M443.17 143.9V153.1" stroke="#4DBEEE" stroke-width="1.25" fill="none"/>
<path d="M453.0 169.8H462.20000000000005M457.6 165.20000000000002V174.4" stroke="#4DBEEE" stroke-width="1.25" fill="none"/>
<path d="M467.42999999999995 174.5H476.63M472.03 169.9V179.1" stroke="#4DBEEE" stroke-width="1.25" fill="none"/>
<path d="M481.85999999999996 178.5H491.06M486.46 173.9V183.1" stroke="#4DBEEE" stroke-width="1.25" fill="none"/>
<path d="M496.28999999999996 180.3H505.49M500.89 175.70000000000002V184.9" stroke="#4DBEEE" stroke-width="1.25" fill="none"/>
<path d="M510.72 181.2H519.9200000000001M515.32 176.6V185.79999999999998" stroke="#4DBEEE" stroke-width="1.25" fill="none"/>
<path d="M525.15 183H534.35M529.75 178.4V187.6" stroke="#4DBEEE" stroke-width="1.25" fill="none"/>
<path d="M539.5799999999999 183.3H548.78M544.18 178.70000000000002V187.9" stroke="#4DBEEE" stroke-width="1.25" fill="none"/>
<polyline points="313.3,65.5 327.73,102.3 342.16,105.4 356.59,108 371.02,111.3 385.45,112.2 399.88,116 414.31,122.3 428.74,129.2 443.17,144 457.6,166.6 472.03,172.7 486.46,177.5 500.89,179.8 515.32,180.7 529.75,182.8 544.18,182.8" fill="none" stroke="#A2142F" stroke-width="1.5" stroke-linejoin="round"/>
<path d="M310.35 62.55L316.25 68.45M310.35 68.45L316.25 62.55" stroke="#A2142F" stroke-width="1.25" fill="none"/>
<path d="M324.78000000000003 99.35L330.68 105.25M324.78000000000003 105.25L330.68 99.35" stroke="#A2142F" stroke-width="1.25" fill="none"/>
<path d="M339.21000000000004 102.45L345.11 108.35000000000001M339.21000000000004 108.35000000000001L345.11 102.45" stroke="#A2142F" stroke-width="1.25" fill="none"/>
<path d="M353.64 105.05L359.53999999999996 110.95M353.64 110.95L359.53999999999996 105.05" stroke="#A2142F" stroke-width="1.25" fill="none"/>
<path d="M368.07 108.35L373.96999999999997 114.25M368.07 114.25L373.96999999999997 108.35" stroke="#A2142F" stroke-width="1.25" fill="none"/>
<path d="M382.5 109.25L388.4 115.15M382.5 115.15L388.4 109.25" stroke="#A2142F" stroke-width="1.25" fill="none"/>
<path d="M396.93 113.05L402.83 118.95M396.93 118.95L402.83 113.05" stroke="#A2142F" stroke-width="1.25" fill="none"/>
<path d="M411.36 119.35L417.26 125.25M411.36 125.25L417.26 119.35" stroke="#A2142F" stroke-width="1.25" fill="none"/>
<path d="M425.79 126.24999999999999L431.69 132.14999999999998M425.79 132.14999999999998L431.69 126.24999999999999" stroke="#A2142F" stroke-width="1.25" fill="none"/>
<path d="M440.22 141.05L446.12 146.95M440.22 146.95L446.12 141.05" stroke="#A2142F" stroke-width="1.25" fill="none"/>
<path d="M454.65000000000003 163.65L460.55 169.54999999999998M454.65000000000003 169.54999999999998L460.55 163.65" stroke="#A2142F" stroke-width="1.25" fill="none"/>
<path d="M469.08 169.75L474.97999999999996 175.64999999999998M469.08 175.64999999999998L474.97999999999996 169.75" stroke="#A2142F" stroke-width="1.25" fill="none"/>
<path d="M483.51 174.55L489.40999999999997 180.45M483.51 180.45L489.40999999999997 174.55" stroke="#A2142F" stroke-width="1.25" fill="none"/>
<path d="M497.94 176.85000000000002L503.84 182.75M497.94 182.75L503.84 176.85000000000002" stroke="#A2142F" stroke-width="1.25" fill="none"/>
<path d="M512.37 177.75L518.2700000000001 183.64999999999998M512.37 183.64999999999998L518.2700000000001 177.75" stroke="#A2142F" stroke-width="1.25" fill="none"/>
<path d="M526.8 179.85000000000002L532.7 185.75M526.8 185.75L532.7 179.85000000000002" stroke="#A2142F" stroke-width="1.25" fill="none"/>
<path d="M541.2299999999999 179.85000000000002L547.13 185.75M541.2299999999999 185.75L547.13 179.85000000000002" stroke="#A2142F" stroke-width="1.25" fill="none"/>
<rect x="481.2" y="13.45" width="60.45" height="92.95" fill="#fff" stroke="#222" stroke-width="1.05"/>
<path d="M483.59999999999997 20.5H499.8" stroke="#0072BD" stroke-width="1.3" fill="none"/>
<path d="M487.09999999999997 20.5H496.3M491.7 15.9V25.1M488.45 17.25L494.95 23.75M488.45 23.75L494.95 17.25" stroke="#0072BD" stroke-width="1.25" fill="none"/>
<text x="501.20" y="24.00" class="l a">α</text><text x="510.90" y="24.00" class="l" style="stroke-width:0.25px" textLength="9.27" lengthAdjust="spacingAndGlyphs">=</text><text x="522.00" y="24.00" class="l">0.0</text>
<path d="M483.59999999999997 33.6H499.8" stroke="#D95319" stroke-width="1.3" fill="none"/>
<circle cx="491.7" cy="33.6" r="4.45" fill="#D95319"/>
<text x="501.20" y="37.10" class="l a">α</text><text x="510.90" y="37.10" class="l" style="stroke-width:0.25px" textLength="9.27" lengthAdjust="spacingAndGlyphs">=</text><text x="522.00" y="37.10" class="l">0.5</text>
<path d="M483.59999999999997 46.7H499.8" stroke="#EDB120" stroke-width="1.3" fill="none"/>
<rect x="488.09999999999997" y="43.1" width="7.2" height="7.2" fill="#EDB120"/>
<text x="501.20" y="50.20" class="l a">α</text><text x="510.90" y="50.20" class="l" style="stroke-width:0.25px" textLength="9.27" lengthAdjust="spacingAndGlyphs">=</text><text x="522.00" y="50.20" class="l">1.0</text>
<path d="M483.59999999999997 59.8H499.8" stroke="#7E2F8E" stroke-width="1.3" fill="none"/>
<path d="M491.7 53.599999999999994L497.09999999999997 63.0H486.3Z" fill="#7E2F8E"/>
<text x="501.20" y="63.30" class="l a">α</text><text x="510.90" y="63.30" class="l" style="stroke-width:0.25px" textLength="9.27" lengthAdjust="spacingAndGlyphs">=</text><text x="522.00" y="63.30" class="l">1.5</text>
<path d="M483.59999999999997 72.9H499.8" stroke="#77AC30" stroke-width="1.3" fill="none"/>
<path d="M491.7 79.10000000000001L497.09999999999997 69.7H486.3Z" fill="#77AC30"/>
<text x="501.20" y="76.40" class="l a">α</text><text x="510.90" y="76.40" class="l" style="stroke-width:0.25px" textLength="9.27" lengthAdjust="spacingAndGlyphs">=</text><text x="522.00" y="76.40" class="l">2.0</text>
<path d="M483.59999999999997 86.0H499.8" stroke="#4DBEEE" stroke-width="1.3" fill="none"/>
<path d="M487.09999999999997 86.0H496.3M491.7 81.4V90.6" stroke="#4DBEEE" stroke-width="1.25" fill="none"/>
<text x="501.20" y="89.50" class="l a">α</text><text x="510.90" y="89.50" class="l" style="stroke-width:0.25px" textLength="9.27" lengthAdjust="spacingAndGlyphs">=</text><text x="522.00" y="89.50" class="l">3.0</text>
<path d="M483.59999999999997 99.1H499.8" stroke="#A2142F" stroke-width="1.3" fill="none"/>
<path d="M488.75 96.14999999999999L494.65 102.05M488.75 102.05L494.65 96.14999999999999" stroke="#A2142F" stroke-width="1.25" fill="none"/>
<text x="501.20" y="102.60" class="l a">α</text><text x="510.90" y="102.60" class="l" style="stroke-width:0.25px" textLength="9.27" lengthAdjust="spacingAndGlyphs">=</text><text x="522.00" y="102.60" class="l">4.0</text>
<path d="M65.7 232.7V417.45" stroke="#e3e3e3" stroke-width="0.85" fill="none"/>
<path d="M119.3 232.7V417.45" stroke="#e3e3e3" stroke-width="0.85" fill="none"/>
<path d="M172.9 232.7V417.45" stroke="#e3e3e3" stroke-width="0.85" fill="none"/>
<path d="M226.5 232.7V417.45" stroke="#e3e3e3" stroke-width="0.85" fill="none"/>
<path d="M25.7 273.6H259.3" stroke="#e3e3e3" stroke-width="0.85" fill="none"/>
<path d="M25.7 335.95H259.3" stroke="#e3e3e3" stroke-width="0.85" fill="none"/>
<path d="M25.7 398.25H259.3" stroke="#e3e3e3" stroke-width="0.85" fill="none"/>
<rect x="25.7" y="232.7" width="233.60000000000002" height="184.75" fill="none" stroke="#1c1c1c" stroke-width="1.35"/>
<path d="M65.7 417.45v-3.0M65.7 232.7v3.0" stroke="#1c1c1c" stroke-width="1.35" fill="none"/>
<text x="66.0" y="432.25" class="t" text-anchor="middle">100</text>
<path d="M119.3 417.45v-3.0M119.3 232.7v3.0" stroke="#1c1c1c" stroke-width="1.35" fill="none"/>
<text x="119.6" y="432.25" class="t" text-anchor="middle">200</text>
<path d="M172.9 417.45v-3.0M172.9 232.7v3.0" stroke="#1c1c1c" stroke-width="1.35" fill="none"/>
<text x="173.20000000000002" y="432.25" class="t" text-anchor="middle">300</text>
<path d="M226.5 417.45v-3.0M226.5 232.7v3.0" stroke="#1c1c1c" stroke-width="1.35" fill="none"/>
<text x="226.8" y="432.25" class="t" text-anchor="middle">400</text>
<path d="M25.7 273.6h3.0M259.3 273.6h-3.0" stroke="#1c1c1c" stroke-width="1.35" fill="none"/>
<text x="12.97" y="280.20" class="t" text-anchor="end">10</text>
<text x="21.50" y="274.80" class="s" text-anchor="end">-1</text>
<path d="M25.7 335.95h3.0M259.3 335.95h-3.0" stroke="#1c1c1c" stroke-width="1.35" fill="none"/>
<text x="12.97" y="342.55" class="t" text-anchor="end">10</text>
<text x="21.50" y="337.15" class="s" text-anchor="end">-2</text>
<path d="M25.7 398.25h3.0M259.3 398.25h-3.0" stroke="#1c1c1c" stroke-width="1.35" fill="none"/>
<text x="12.97" y="404.85" class="t" text-anchor="end">10</text>
<text x="21.50" y="399.45" class="s" text-anchor="end">-3</text>
<polyline points="26.0,232.3 39.4,256.6 52.8,278.3 66.2,292.6 79.6,306 93.0,321.6 106.4,331.8 119.8,342.4 133.2,356 146.6,362 160.0,369.5 173.4,375.5 186.8,383.5 200.2,386 213.6,396.5 227.0,398.5 240.4,403 253.8,408.2" fill="none" stroke="#0072BD" stroke-width="1.5" stroke-linejoin="round"/>
<path d="M21.4 232.3H30.6M26.0 227.70000000000002V236.9M22.75 229.05L29.25 235.55M22.75 235.55L29.25 229.05" stroke="#0072BD" stroke-width="1.25" fill="none"/>
<path d="M34.8 256.6H44.0M39.4 252.00000000000003V261.20000000000005M36.15 253.35000000000002L42.65 259.85M36.15 259.85L42.65 253.35000000000002" stroke="#0072BD" stroke-width="1.25" fill="none"/>
<path d="M48.199999999999996 278.3H57.4M52.8 273.7V282.90000000000003M49.55 275.05L56.05 281.55M49.55 281.55L56.05 275.05" stroke="#0072BD" stroke-width="1.25" fill="none"/>
<path d="M61.6 292.6H70.8M66.2 288.0V297.20000000000005M62.95 289.35L69.45 295.85M62.95 295.85L69.45 289.35" stroke="#0072BD" stroke-width="1.25" fill="none"/>
<path d="M75.0 306H84.19999999999999M79.6 301.4V310.6M76.35 302.75L82.85 309.25M76.35 309.25L82.85 302.75" stroke="#0072BD" stroke-width="1.25" fill="none"/>
<path d="M88.4 321.6H97.6M93.0 317.0V326.20000000000005M89.75 318.35L96.25 324.85M89.75 324.85L96.25 318.35" stroke="#0072BD" stroke-width="1.25" fill="none"/>
<path d="M101.80000000000001 331.8H111.0M106.4 327.2V336.40000000000003M103.15 328.55L109.65 335.05M103.15 335.05L109.65 328.55" stroke="#0072BD" stroke-width="1.25" fill="none"/>
<path d="M115.2 342.4H124.39999999999999M119.8 337.79999999999995V347.0M116.55 339.15L123.05 345.65M116.55 345.65L123.05 339.15" stroke="#0072BD" stroke-width="1.25" fill="none"/>
<path d="M128.6 356H137.79999999999998M133.2 351.4V360.6M129.95 352.75L136.45 359.25M129.95 359.25L136.45 352.75" stroke="#0072BD" stroke-width="1.25" fill="none"/>
<path d="M142.0 362H151.2M146.6 357.4V366.6M143.35 358.75L149.85 365.25M143.35 365.25L149.85 358.75" stroke="#0072BD" stroke-width="1.25" fill="none"/>
<path d="M155.4 369.5H164.6M160.0 364.9V374.1M156.75 366.25L163.25 372.75M156.75 372.75L163.25 366.25" stroke="#0072BD" stroke-width="1.25" fill="none"/>
<path d="M168.8 375.5H178.0M173.4 370.9V380.1M170.15 372.25L176.65 378.75M170.15 378.75L176.65 372.25" stroke="#0072BD" stroke-width="1.25" fill="none"/>
<path d="M182.20000000000002 383.5H191.4M186.8 378.9V388.1M183.55 380.25L190.05 386.75M183.55 386.75L190.05 380.25" stroke="#0072BD" stroke-width="1.25" fill="none"/>
<path d="M195.6 386H204.79999999999998M200.2 381.4V390.6M196.95 382.75L203.45 389.25M196.95 389.25L203.45 382.75" stroke="#0072BD" stroke-width="1.25" fill="none"/>
<path d="M209.0 396.5H218.2M213.6 391.9V401.1M210.35 393.25L216.85 399.75M210.35 399.75L216.85 393.25" stroke="#0072BD" stroke-width="1.25" fill="none"/>
<path d="M222.4 398.5H231.6M227.0 393.9V403.1M223.75 395.25L230.25 401.75M223.75 401.75L230.25 395.25" stroke="#0072BD" stroke-width="1.25" fill="none"/>
<path d="M235.8 403H245.0M240.4 398.4V407.6M237.15 399.75L243.65 406.25M237.15 406.25L243.65 399.75" stroke="#0072BD" stroke-width="1.25" fill="none"/>
<path d="M249.20000000000002 408.2H258.40000000000003M253.8 403.59999999999997V412.8M250.55 404.95L257.05 411.45M250.55 411.45L257.05 404.95" stroke="#0072BD" stroke-width="1.25" fill="none"/>
<polyline points="26.0,243.7 39.4,271 52.8,289.7 66.2,301.6 79.6,316.5 93.0,331 106.4,343.5 119.8,352.5 133.2,362.5 146.6,367.5 160.0,374 173.4,379.5 186.8,388.5 200.2,391.5 213.6,401.1 227.0,403 240.4,407.5 253.8,411.9" fill="none" stroke="#D95319" stroke-width="1.5" stroke-linejoin="round"/>
<circle cx="26.0" cy="243.7" r="4.45" fill="#D95319"/>
<circle cx="39.4" cy="271" r="4.45" fill="#D95319"/>
<circle cx="52.8" cy="289.7" r="4.45" fill="#D95319"/>
<circle cx="66.2" cy="301.6" r="4.45" fill="#D95319"/>
<circle cx="79.6" cy="316.5" r="4.45" fill="#D95319"/>
<circle cx="93.0" cy="331" r="4.45" fill="#D95319"/>
<circle cx="106.4" cy="343.5" r="4.45" fill="#D95319"/>
<circle cx="119.8" cy="352.5" r="4.45" fill="#D95319"/>
<circle cx="133.2" cy="362.5" r="4.45" fill="#D95319"/>
<circle cx="146.6" cy="367.5" r="4.45" fill="#D95319"/>
<circle cx="160.0" cy="374" r="4.45" fill="#D95319"/>
<circle cx="173.4" cy="379.5" r="4.45" fill="#D95319"/>
<circle cx="186.8" cy="388.5" r="4.45" fill="#D95319"/>
<circle cx="200.2" cy="391.5" r="4.45" fill="#D95319"/>
<circle cx="213.6" cy="401.1" r="4.45" fill="#D95319"/>
<circle cx="227.0" cy="403" r="4.45" fill="#D95319"/>
<circle cx="240.4" cy="407.5" r="4.45" fill="#D95319"/>
<circle cx="253.8" cy="411.9" r="4.45" fill="#D95319"/>
<polyline points="26.0,249 39.4,280 52.8,298.5 66.2,308.8 79.6,322 93.0,334.8 106.4,345 119.8,353.5 133.2,363.7 146.6,368.1 160.0,374.6 173.4,379.9 186.8,388.7 200.2,390.8 213.6,400.5 227.0,402.5 240.4,407 253.8,411.5" fill="none" stroke="#EDB120" stroke-width="1.5" stroke-linejoin="round"/>
<rect x="22.4" y="245.4" width="7.2" height="7.2" fill="#EDB120"/>
<rect x="35.8" y="276.4" width="7.2" height="7.2" fill="#EDB120"/>
<rect x="49.199999999999996" y="294.9" width="7.2" height="7.2" fill="#EDB120"/>
<rect x="62.6" y="305.2" width="7.2" height="7.2" fill="#EDB120"/>
<rect x="76.0" y="318.4" width="7.2" height="7.2" fill="#EDB120"/>
<rect x="89.4" y="331.2" width="7.2" height="7.2" fill="#EDB120"/>
<rect x="102.80000000000001" y="341.4" width="7.2" height="7.2" fill="#EDB120"/>
<rect x="116.2" y="349.9" width="7.2" height="7.2" fill="#EDB120"/>
<rect x="129.6" y="360.09999999999997" width="7.2" height="7.2" fill="#EDB120"/>
<rect x="143.0" y="364.5" width="7.2" height="7.2" fill="#EDB120"/>
<rect x="156.4" y="371.0" width="7.2" height="7.2" fill="#EDB120"/>
<rect x="169.8" y="376.29999999999995" width="7.2" height="7.2" fill="#EDB120"/>
<rect x="183.20000000000002" y="385.09999999999997" width="7.2" height="7.2" fill="#EDB120"/>
<rect x="196.6" y="387.2" width="7.2" height="7.2" fill="#EDB120"/>
<rect x="210.0" y="396.9" width="7.2" height="7.2" fill="#EDB120"/>
<rect x="223.4" y="398.9" width="7.2" height="7.2" fill="#EDB120"/>
<rect x="236.8" y="403.4" width="7.2" height="7.2" fill="#EDB120"/>
<rect x="250.20000000000002" y="407.9" width="7.2" height="7.2" fill="#EDB120"/>
<polyline points="26.0,252.2 39.4,280.9 52.8,299.9 66.2,310.5 79.6,323.5 93.0,336.2 106.4,342.8 119.8,352.3 133.2,360.5 146.6,365.6 160.0,372.1 173.4,377.3 186.8,385.6 200.2,388 213.6,398 227.0,399.9 240.4,404.3 253.8,409.4" fill="none" stroke="#7E2F8E" stroke-width="1.5" stroke-linejoin="round"/>
<path d="M26.0 246.0L31.4 255.39999999999998H20.6Z" fill="#7E2F8E"/>
<path d="M39.4 274.7L44.8 284.09999999999997H34.0Z" fill="#7E2F8E"/>
<path d="M52.8 293.7L58.199999999999996 303.09999999999997H47.4Z" fill="#7E2F8E"/>
<path d="M66.2 304.3L71.60000000000001 313.7H60.800000000000004Z" fill="#7E2F8E"/>
<path d="M79.6 317.3L85.0 326.7H74.19999999999999Z" fill="#7E2F8E"/>
<path d="M93.0 330.0L98.4 339.4H87.6Z" fill="#7E2F8E"/>
<path d="M106.4 336.6L111.80000000000001 346.0H101.0Z" fill="#7E2F8E"/>
<path d="M119.8 346.1L125.2 355.5H114.39999999999999Z" fill="#7E2F8E"/>
<path d="M133.2 354.3L138.6 363.7H127.79999999999998Z" fill="#7E2F8E"/>
<path d="M146.6 359.40000000000003L152.0 368.8H141.2Z" fill="#7E2F8E"/>
<path d="M160.0 365.90000000000003L165.4 375.3H154.6Z" fill="#7E2F8E"/>
<path d="M173.4 371.1L178.8 380.5H168.0Z" fill="#7E2F8E"/>
<path d="M186.8 379.40000000000003L192.20000000000002 388.8H181.4Z" fill="#7E2F8E"/>
<path d="M200.2 381.8L205.6 391.2H194.79999999999998Z" fill="#7E2F8E"/>
<path d="M213.6 391.8L219.0 401.2H208.2Z" fill="#7E2F8E"/>
<path d="M227.0 393.7L232.4 403.09999999999997H221.6Z" fill="#7E2F8E"/>
<path d="M240.4 398.1L245.8 407.5H235.0Z" fill="#7E2F8E"/>
<path d="M253.8 403.2L259.2 412.59999999999997H248.4Z" fill="#7E2F8E"/>
<polyline points="26.0,255.4 39.4,280.3 52.8,298.6 66.2,308.5 79.6,321.6 93.0,334.3 106.4,340.4 119.8,349.7 133.2,358 146.6,363 160.0,368.9 173.4,373.5 186.8,381.8 200.2,383.8 213.6,393 227.0,394.2 240.4,399.9 253.8,404.9" fill="none" stroke="#77AC30" stroke-width="1.5" stroke-linejoin="round"/>
<path d="M26.0 261.6L31.4 252.20000000000002H20.6Z" fill="#77AC30"/>
<path d="M39.4 286.5L44.8 277.1H34.0Z" fill="#77AC30"/>
<path d="M52.8 304.8L58.199999999999996 295.40000000000003H47.4Z" fill="#77AC30"/>
<path d="M66.2 314.7L71.60000000000001 305.3H60.800000000000004Z" fill="#77AC30"/>
<path d="M79.6 327.8L85.0 318.40000000000003H74.19999999999999Z" fill="#77AC30"/>
<path d="M93.0 340.5L98.4 331.1H87.6Z" fill="#77AC30"/>
<path d="M106.4 346.59999999999997L111.80000000000001 337.2H101.0Z" fill="#77AC30"/>
<path d="M119.8 355.9L125.2 346.5H114.39999999999999Z" fill="#77AC30"/>
<path d="M133.2 364.2L138.6 354.8H127.79999999999998Z" fill="#77AC30"/>
<path d="M146.6 369.2L152.0 359.8H141.2Z" fill="#77AC30"/>
<path d="M160.0 375.09999999999997L165.4 365.7H154.6Z" fill="#77AC30"/>
<path d="M173.4 379.7L178.8 370.3H168.0Z" fill="#77AC30"/>
<path d="M186.8 388.0L192.20000000000002 378.6H181.4Z" fill="#77AC30"/>
<path d="M200.2 390.0L205.6 380.6H194.79999999999998Z" fill="#77AC30"/>
<path d="M213.6 399.2L219.0 389.8H208.2Z" fill="#77AC30"/>
<path d="M227.0 400.4L232.4 391.0H221.6Z" fill="#77AC30"/>
<path d="M240.4 406.09999999999997L245.8 396.7H235.0Z" fill="#77AC30"/>
<path d="M253.8 411.09999999999997L259.2 401.7H248.4Z" fill="#77AC30"/>
<polyline points="26.0,256.6 39.4,276.5 52.8,291.6 66.2,303.5 79.6,317.2 93.0,328 106.4,336.3 119.8,343.5 133.2,351 146.6,354.8 160.0,361 173.4,364.7 186.8,370.4 200.2,372.5 213.6,380.4 227.0,380.9 240.4,387.2 253.8,391" fill="none" stroke="#4DBEEE" stroke-width="1.5" stroke-linejoin="round"/>
<path d="M21.4 256.6H30.6M26.0 252.00000000000003V261.20000000000005" stroke="#4DBEEE" stroke-width="1.25" fill="none"/>
<path d="M34.8 276.5H44.0M39.4 271.9V281.1" stroke="#4DBEEE" stroke-width="1.25" fill="none"/>
<path d="M48.199999999999996 291.6H57.4M52.8 287.0V296.20000000000005" stroke="#4DBEEE" stroke-width="1.25" fill="none"/>
<path d="M61.6 303.5H70.8M66.2 298.9V308.1" stroke="#4DBEEE" stroke-width="1.25" fill="none"/>
<path d="M75.0 317.2H84.19999999999999M79.6 312.59999999999997V321.8" stroke="#4DBEEE" stroke-width="1.25" fill="none"/>
<path d="M88.4 328H97.6M93.0 323.4V332.6" stroke="#4DBEEE" stroke-width="1.25" fill="none"/>
<path d="M101.80000000000001 336.3H111.0M106.4 331.7V340.90000000000003" stroke="#4DBEEE" stroke-width="1.25" fill="none"/>
<path d="M115.2 343.5H124.39999999999999M119.8 338.9V348.1" stroke="#4DBEEE" stroke-width="1.25" fill="none"/>
<path d="M128.6 351H137.79999999999998M133.2 346.4V355.6" stroke="#4DBEEE" stroke-width="1.25" fill="none"/>
<path d="M142.0 354.8H151.2M146.6 350.2V359.40000000000003" stroke="#4DBEEE" stroke-width="1.25" fill="none"/>
<path d="M155.4 361H164.6M160.0 356.4V365.6" stroke="#4DBEEE" stroke-width="1.25" fill="none"/>
<path d="M168.8 364.7H178.0M173.4 360.09999999999997V369.3" stroke="#4DBEEE" stroke-width="1.25" fill="none"/>
<path d="M182.20000000000002 370.4H191.4M186.8 365.79999999999995V375.0" stroke="#4DBEEE" stroke-width="1.25" fill="none"/>
<path d="M195.6 372.5H204.79999999999998M200.2 367.9V377.1" stroke="#4DBEEE" stroke-width="1.25" fill="none"/>
<path d="M209.0 380.4H218.2M213.6 375.79999999999995V385.0" stroke="#4DBEEE" stroke-width="1.25" fill="none"/>
<path d="M222.4 380.9H231.6M227.0 376.29999999999995V385.5" stroke="#4DBEEE" stroke-width="1.25" fill="none"/>
<path d="M235.8 387.2H245.0M240.4 382.59999999999997V391.8" stroke="#4DBEEE" stroke-width="1.25" fill="none"/>
<path d="M249.20000000000002 391H258.40000000000003M253.8 386.4V395.6" stroke="#4DBEEE" stroke-width="1.25" fill="none"/>
<polyline points="26.0,258.9 39.4,275.7 52.8,282.2 66.2,294.6 79.6,308.8 93.0,319.7 106.4,329.7 119.8,338.5 133.2,344.7 146.6,347.8 160.0,352.8 173.4,356.5 186.8,363.4 200.2,365.2 213.6,370.2 227.0,371.1 240.4,375.8 253.8,379" fill="none" stroke="#A2142F" stroke-width="1.5" stroke-linejoin="round"/>
<path d="M23.05 255.95L28.95 261.84999999999997M23.05 261.84999999999997L28.95 255.95" stroke="#A2142F" stroke-width="1.25" fill="none"/>
<path d="M36.449999999999996 272.75L42.35 278.65M36.449999999999996 278.65L42.35 272.75" stroke="#A2142F" stroke-width="1.25" fill="none"/>
<path d="M49.849999999999994 279.25L55.75 285.15M49.849999999999994 285.15L55.75 279.25" stroke="#A2142F" stroke-width="1.25" fill="none"/>
<path d="M63.25 291.65000000000003L69.15 297.55M63.25 297.55L69.15 291.65000000000003" stroke="#A2142F" stroke-width="1.25" fill="none"/>
<path d="M76.64999999999999 305.85L82.55 311.75M76.64999999999999 311.75L82.55 305.85" stroke="#A2142F" stroke-width="1.25" fill="none"/>
<path d="M90.05 316.75L95.95 322.65M90.05 322.65L95.95 316.75" stroke="#A2142F" stroke-width="1.25" fill="none"/>
<path d="M103.45 326.75L109.35000000000001 332.65M103.45 332.65L109.35000000000001 326.75" stroke="#A2142F" stroke-width="1.25" fill="none"/>
<path d="M116.85 335.55L122.75 341.45M116.85 341.45L122.75 335.55" stroke="#A2142F" stroke-width="1.25" fill="none"/>
<path d="M130.25 341.75L136.14999999999998 347.65M130.25 347.65L136.14999999999998 341.75" stroke="#A2142F" stroke-width="1.25" fill="none"/>
<path d="M143.65 344.85L149.54999999999998 350.75M143.65 350.75L149.54999999999998 344.85" stroke="#A2142F" stroke-width="1.25" fill="none"/>
<path d="M157.05 349.85L162.95 355.75M157.05 355.75L162.95 349.85" stroke="#A2142F" stroke-width="1.25" fill="none"/>
<path d="M170.45000000000002 353.55L176.35 359.45M170.45000000000002 359.45L176.35 353.55" stroke="#A2142F" stroke-width="1.25" fill="none"/>
<path d="M183.85000000000002 360.45L189.75 366.34999999999997M183.85000000000002 366.34999999999997L189.75 360.45" stroke="#A2142F" stroke-width="1.25" fill="none"/>
<path d="M197.25 362.25L203.14999999999998 368.15M197.25 368.15L203.14999999999998 362.25" stroke="#A2142F" stroke-width="1.25" fill="none"/>
<path d="M210.65 367.25L216.54999999999998 373.15M210.65 373.15L216.54999999999998 367.25" stroke="#A2142F" stroke-width="1.25" fill="none"/>
<path d="M224.05 368.15000000000003L229.95 374.05M224.05 374.05L229.95 368.15000000000003" stroke="#A2142F" stroke-width="1.25" fill="none"/>
<path d="M237.45000000000002 372.85L243.35 378.75M237.45000000000002 378.75L243.35 372.85" stroke="#A2142F" stroke-width="1.25" fill="none"/>
<path d="M250.85000000000002 376.05L256.75 381.95M250.85000000000002 381.95L256.75 376.05" stroke="#A2142F" stroke-width="1.25" fill="none"/>
<rect x="193.5" y="238.45" width="60.45" height="92.95" fill="#fff" stroke="#222" stroke-width="1.05"/>
<path d="M195.9 245.5H212.1" stroke="#0072BD" stroke-width="1.3" fill="none"/>
<path d="M199.4 245.5H208.6M204.0 240.9V250.1M200.75 242.25L207.25 248.75M200.75 248.75L207.25 242.25" stroke="#0072BD" stroke-width="1.25" fill="none"/>
<text x="213.50" y="249.00" class="l a">α</text><text x="223.20" y="249.00" class="l" style="stroke-width:0.25px" textLength="9.27" lengthAdjust="spacingAndGlyphs">=</text><text x="234.30" y="249.00" class="l">0.0</text>
<path d="M195.9 258.6H212.1" stroke="#D95319" stroke-width="1.3" fill="none"/>
<circle cx="204.0" cy="258.6" r="4.45" fill="#D95319"/>
<text x="213.50" y="262.10" class="l a">α</text><text x="223.20" y="262.10" class="l" style="stroke-width:0.25px" textLength="9.27" lengthAdjust="spacingAndGlyphs">=</text><text x="234.30" y="262.10" class="l">0.5</text>
<path d="M195.9 271.7H212.1" stroke="#EDB120" stroke-width="1.3" fill="none"/>
<rect x="200.4" y="268.09999999999997" width="7.2" height="7.2" fill="#EDB120"/>
<text x="213.50" y="275.20" class="l a">α</text><text x="223.20" y="275.20" class="l" style="stroke-width:0.25px" textLength="9.27" lengthAdjust="spacingAndGlyphs">=</text><text x="234.30" y="275.20" class="l">1.0</text>
<path d="M195.9 284.8H212.1" stroke="#7E2F8E" stroke-width="1.3" fill="none"/>
<path d="M204.0 278.6L209.4 288.0H198.6Z" fill="#7E2F8E"/>
<text x="213.50" y="288.30" class="l a">α</text><text x="223.20" y="288.30" class="l" style="stroke-width:0.25px" textLength="9.27" lengthAdjust="spacingAndGlyphs">=</text><text x="234.30" y="288.30" class="l">1.5</text>
<path d="M195.9 297.9H212.1" stroke="#77AC30" stroke-width="1.3" fill="none"/>
<path d="M204.0 304.09999999999997L209.4 294.7H198.6Z" fill="#77AC30"/>
<text x="213.50" y="301.40" class="l a">α</text><text x="223.20" y="301.40" class="l" style="stroke-width:0.25px" textLength="9.27" lengthAdjust="spacingAndGlyphs">=</text><text x="234.30" y="301.40" class="l">2.0</text>
<path d="M195.9 311.0H212.1" stroke="#4DBEEE" stroke-width="1.3" fill="none"/>
<path d="M199.4 311.0H208.6M204.0 306.4V315.6" stroke="#4DBEEE" stroke-width="1.25" fill="none"/>
<text x="213.50" y="314.50" class="l a">α</text><text x="223.20" y="314.50" class="l" style="stroke-width:0.25px" textLength="9.27" lengthAdjust="spacingAndGlyphs">=</text><text x="234.30" y="314.50" class="l">3.0</text>
<path d="M195.9 324.1H212.1" stroke="#A2142F" stroke-width="1.3" fill="none"/>
<path d="M201.05 321.15000000000003L206.95 327.05M201.05 327.05L206.95 321.15000000000003" stroke="#A2142F" stroke-width="1.25" fill="none"/>
<text x="213.50" y="327.60" class="l a">α</text><text x="223.20" y="327.60" class="l" style="stroke-width:0.25px" textLength="9.27" lengthAdjust="spacingAndGlyphs">=</text><text x="234.30" y="327.60" class="l">4.0</text>
<path d="M346.8 232.7V417.45" stroke="#e3e3e3" stroke-width="0.85" fill="none"/>
<path d="M394.9 232.7V417.45" stroke="#e3e3e3" stroke-width="0.85" fill="none"/>
<path d="M443.0 232.7V417.45" stroke="#e3e3e3" stroke-width="0.85" fill="none"/>
<path d="M491.2 232.7V417.45" stroke="#e3e3e3" stroke-width="0.85" fill="none"/>
<path d="M539.3 232.7V417.45" stroke="#e3e3e3" stroke-width="0.85" fill="none"/>
<path d="M313.3 277.0H547.0" stroke="#e3e3e3" stroke-width="0.85" fill="none"/>
<path d="M313.3 328.4H547.0" stroke="#e3e3e3" stroke-width="0.85" fill="none"/>
<path d="M313.3 380.4H547.0" stroke="#e3e3e3" stroke-width="0.85" fill="none"/>
<rect x="313.3" y="232.7" width="233.7" height="184.75" fill="none" stroke="#1c1c1c" stroke-width="1.35"/>
<path d="M346.8 417.45v-3.0M346.8 232.7v3.0" stroke="#1c1c1c" stroke-width="1.35" fill="none"/>
<text x="347.1" y="432.25" class="t" text-anchor="middle">200</text>
<path d="M394.9 417.45v-3.0M394.9 232.7v3.0" stroke="#1c1c1c" stroke-width="1.35" fill="none"/>
<text x="395.2" y="432.25" class="t" text-anchor="middle">400</text>
<path d="M443.0 417.45v-3.0M443.0 232.7v3.0" stroke="#1c1c1c" stroke-width="1.35" fill="none"/>
<text x="443.3" y="432.25" class="t" text-anchor="middle">600</text>
<path d="M491.2 417.45v-3.0M491.2 232.7v3.0" stroke="#1c1c1c" stroke-width="1.35" fill="none"/>
<text x="491.5" y="432.25" class="t" text-anchor="middle">800</text>
<path d="M539.3 417.45v-3.0M539.3 232.7v3.0" stroke="#1c1c1c" stroke-width="1.35" fill="none"/>
<text x="539.5999999999999" y="432.25" class="t" text-anchor="middle">1000</text>
<path d="M313.3 277.0h3.0M547.0 277.0h-3.0" stroke="#1c1c1c" stroke-width="1.35" fill="none"/>
<text x="300.57" y="283.60" class="t" text-anchor="end">10</text>
<text x="309.10" y="278.20" class="s" text-anchor="end">-2</text>
<path d="M313.3 328.4h3.0M547.0 328.4h-3.0" stroke="#1c1c1c" stroke-width="1.35" fill="none"/>
<text x="300.57" y="335.00" class="t" text-anchor="end">10</text>
<text x="309.10" y="329.60" class="s" text-anchor="end">-3</text>
<path d="M313.3 380.4h3.0M547.0 380.4h-3.0" stroke="#1c1c1c" stroke-width="1.35" fill="none"/>
<text x="300.57" y="387.00" class="t" text-anchor="end">10</text>
<text x="309.10" y="381.60" class="s" text-anchor="end">-4</text>
<polyline points="313.3,232.3 327.73,270 342.16,300.2 356.59,315.5 371.02,332.4 385.45,348 399.88,364.9 414.31,370 428.74,382.3 443.17,390.5 457.6,393.7 472.03,398 486.46,402 500.89,405.5 515.32,408 529.75,409.5 544.18,411" fill="none" stroke="#0072BD" stroke-width="1.5" stroke-linejoin="round"/>
<path d="M308.7 232.3H317.90000000000003M313.3 227.70000000000002V236.9M310.05 229.05L316.55 235.55M310.05 235.55L316.55 229.05" stroke="#0072BD" stroke-width="1.25" fill="none"/>
<path d="M323.13 270H332.33000000000004M327.73 265.4V274.6M324.48 266.75L330.98 273.25M324.48 273.25L330.98 266.75" stroke="#0072BD" stroke-width="1.25" fill="none"/>
<path d="M337.56 300.2H346.76000000000005M342.16 295.59999999999997V304.8M338.91 296.95L345.41 303.45M338.91 303.45L345.41 296.95" stroke="#0072BD" stroke-width="1.25" fill="none"/>
<path d="M351.98999999999995 315.5H361.19M356.59 310.9V320.1M353.34 312.25L359.84 318.75M353.34 318.75L359.84 312.25" stroke="#0072BD" stroke-width="1.25" fill="none"/>
<path d="M366.41999999999996 332.4H375.62M371.02 327.79999999999995V337.0M367.77 329.15L374.27 335.65M367.77 335.65L374.27 329.15" stroke="#0072BD" stroke-width="1.25" fill="none"/>
<path d="M380.84999999999997 348H390.05M385.45 343.4V352.6M382.2 344.75L388.7 351.25M382.2 351.25L388.7 344.75" stroke="#0072BD" stroke-width="1.25" fill="none"/>
<path d="M395.28 364.9H404.48M399.88 360.29999999999995V369.5M396.63 361.65L403.13 368.15M396.63 368.15L403.13 361.65" stroke="#0072BD" stroke-width="1.25" fill="none"/>
<path d="M409.71 370H418.91M414.31 365.4V374.6M411.06 366.75L417.56 373.25M411.06 373.25L417.56 366.75" stroke="#0072BD" stroke-width="1.25" fill="none"/>
<path d="M424.14 382.3H433.34000000000003M428.74 377.7V386.90000000000003M425.49 379.05L431.99 385.55M425.49 385.55L431.99 379.05" stroke="#0072BD" stroke-width="1.25" fill="none"/>
<path d="M438.57 390.5H447.77000000000004M443.17 385.9V395.1M439.92 387.25L446.42 393.75M439.92 393.75L446.42 387.25" stroke="#0072BD" stroke-width="1.25" fill="none"/>
<path d="M453.0 393.7H462.20000000000005M457.6 389.09999999999997V398.3M454.35 390.45L460.85 396.95M454.35 396.95L460.85 390.45" stroke="#0072BD" stroke-width="1.25" fill="none"/>
<path d="M467.42999999999995 398H476.63M472.03 393.4V402.6M468.78 394.75L475.28 401.25M468.78 401.25L475.28 394.75" stroke="#0072BD" stroke-width="1.25" fill="none"/>
<path d="M481.85999999999996 402H491.06M486.46 397.4V406.6M483.21 398.75L489.71 405.25M483.21 405.25L489.71 398.75" stroke="#0072BD" stroke-width="1.25" fill="none"/>
<path d="M496.28999999999996 405.5H505.49M500.89 400.9V410.1M497.64 402.25L504.14 408.75M497.64 408.75L504.14 402.25" stroke="#0072BD" stroke-width="1.25" fill="none"/>
<path d="M510.72 408H519.9200000000001M515.32 403.4V412.6M512.07 404.75L518.57 411.25M512.07 411.25L518.57 404.75" stroke="#0072BD" stroke-width="1.25" fill="none"/>
<path d="M525.15 409.5H534.35M529.75 404.9V414.1M526.5 406.25L533.0 412.75M526.5 412.75L533.0 406.25" stroke="#0072BD" stroke-width="1.25" fill="none"/>
<path d="M539.5799999999999 411H548.78M544.18 406.4V415.6M540.93 407.75L547.43 414.25M540.93 414.25L547.43 407.75" stroke="#0072BD" stroke-width="1.25" fill="none"/>
<polyline points="313.3,251 327.73,282.8 342.16,312.6 356.59,327.9 371.02,342.6 385.45,357.9 399.88,373.1 414.31,377.7 428.74,389.2 443.17,395 457.6,397.5 472.03,401.5 486.46,404.8 500.89,407.8 515.32,410 529.75,411.2 544.18,412" fill="none" stroke="#D95319" stroke-width="1.5" stroke-linejoin="round"/>
<circle cx="313.3" cy="251" r="4.45" fill="#D95319"/>
<circle cx="327.73" cy="282.8" r="4.45" fill="#D95319"/>
<circle cx="342.16" cy="312.6" r="4.45" fill="#D95319"/>
<circle cx="356.59" cy="327.9" r="4.45" fill="#D95319"/>
<circle cx="371.02" cy="342.6" r="4.45" fill="#D95319"/>
<circle cx="385.45" cy="357.9" r="4.45" fill="#D95319"/>
<circle cx="399.88" cy="373.1" r="4.45" fill="#D95319"/>
<circle cx="414.31" cy="377.7" r="4.45" fill="#D95319"/>
<circle cx="428.74" cy="389.2" r="4.45" fill="#D95319"/>
<circle cx="443.17" cy="395" r="4.45" fill="#D95319"/>
<circle cx="457.6" cy="397.5" r="4.45" fill="#D95319"/>
<circle cx="472.03" cy="401.5" r="4.45" fill="#D95319"/>
<circle cx="486.46" cy="404.8" r="4.45" fill="#D95319"/>
<circle cx="500.89" cy="407.8" r="4.45" fill="#D95319"/>
<circle cx="515.32" cy="410" r="4.45" fill="#D95319"/>
<circle cx="529.75" cy="411.2" r="4.45" fill="#D95319"/>
<circle cx="544.18" cy="412" r="4.45" fill="#D95319"/>
<polyline points="313.3,258.5 327.73,291.5 342.16,319.5 356.59,334.5 371.02,348 385.45,361 399.88,375.5 414.31,380.2 428.74,390.5 443.17,397.5 457.6,400.5 472.03,403.5 486.46,406.7 500.89,409.5 515.32,411.5 529.75,412.6 544.18,413.4" fill="none" stroke="#EDB120" stroke-width="1.5" stroke-linejoin="round"/>
<rect x="309.7" y="254.9" width="7.2" height="7.2" fill="#EDB120"/>
<rect x="324.13" y="287.9" width="7.2" height="7.2" fill="#EDB120"/>
<rect x="338.56" y="315.9" width="7.2" height="7.2" fill="#EDB120"/>
<rect x="352.98999999999995" y="330.9" width="7.2" height="7.2" fill="#EDB120"/>
<rect x="367.41999999999996" y="344.4" width="7.2" height="7.2" fill="#EDB120"/>
<rect x="381.84999999999997" y="357.4" width="7.2" height="7.2" fill="#EDB120"/>
<rect x="396.28" y="371.9" width="7.2" height="7.2" fill="#EDB120"/>
<rect x="410.71" y="376.59999999999997" width="7.2" height="7.2" fill="#EDB120"/>
<rect x="425.14" y="386.9" width="7.2" height="7.2" fill="#EDB120"/>
<rect x="439.57" y="393.9" width="7.2" height="7.2" fill="#EDB120"/>
<rect x="454.0" y="396.9" width="7.2" height="7.2" fill="#EDB120"/>
<rect x="468.42999999999995" y="399.9" width="7.2" height="7.2" fill="#EDB120"/>
<rect x="482.85999999999996" y="403.09999999999997" width="7.2" height="7.2" fill="#EDB120"/>
<rect x="497.28999999999996" y="405.9" width="7.2" height="7.2" fill="#EDB120"/>
<rect x="511.72" y="407.9" width="7.2" height="7.2" fill="#EDB120"/>
<rect x="526.15" y="409.0" width="7.2" height="7.2" fill="#EDB120"/>
<rect x="540.5799999999999" y="409.79999999999995" width="7.2" height="7.2" fill="#EDB120"/>
<polyline points="313.3,263 327.73,294.2 342.16,321.6 356.59,336.8 371.02,351 385.45,364.2 399.88,378.8 414.31,383.5 428.74,393.7 443.17,400 457.6,402.5 472.03,404.8 486.46,408.8 500.89,411.1 515.32,412.7 529.75,413.5 544.18,414.3" fill="none" stroke="#7E2F8E" stroke-width="1.5" stroke-linejoin="round"/>
<path d="M313.3 256.8L318.7 266.2H307.90000000000003Z" fill="#7E2F8E"/>
<path d="M327.73 288.0L333.13 297.4H322.33000000000004Z" fill="#7E2F8E"/>
<path d="M342.16 315.40000000000003L347.56 324.8H336.76000000000005Z" fill="#7E2F8E"/>
<path d="M356.59 330.6L361.98999999999995 340.0H351.19Z" fill="#7E2F8E"/>
<path d="M371.02 344.8L376.41999999999996 354.2H365.62Z" fill="#7E2F8E"/>
<path d="M385.45 358.0L390.84999999999997 367.4H380.05Z" fill="#7E2F8E"/>
<path d="M399.88 372.6L405.28 382.0H394.48Z" fill="#7E2F8E"/>
<path d="M414.31 377.3L419.71 386.7H408.91Z" fill="#7E2F8E"/>
<path d="M428.74 387.5L434.14 396.9H423.34000000000003Z" fill="#7E2F8E"/>
<path d="M443.17 393.8L448.57 403.2H437.77000000000004Z" fill="#7E2F8E"/>
<path d="M457.6 396.3L463.0 405.7H452.20000000000005Z" fill="#7E2F8E"/>
<path d="M472.03 398.6L477.42999999999995 408.0H466.63Z" fill="#7E2F8E"/>
<path d="M486.46 402.6L491.85999999999996 412.0H481.06Z" fill="#7E2F8E"/>
<path d="M500.89 404.90000000000003L506.28999999999996 414.3H495.49Z" fill="#7E2F8E"/>
<path d="M515.32 406.5L520.72 415.9H509.9200000000001Z" fill="#7E2F8E"/>
<path d="M529.75 407.3L535.15 416.7H524.35Z" fill="#7E2F8E"/>
<path d="M544.18 408.1L549.5799999999999 417.5H538.78Z" fill="#7E2F8E"/>
<polyline points="313.3,262.3 327.73,294.2 342.16,320.3 356.59,334.9 371.02,348.3 385.45,361.1 399.88,375.6 414.31,380.4 428.74,390.5 443.17,397.5 457.6,400.6 472.03,403.6 486.46,406.7 500.89,409.6 515.32,411.5 529.75,412.7 544.18,413.5" fill="none" stroke="#77AC30" stroke-width="1.5" stroke-linejoin="round"/>
<path d="M313.3 268.5L318.7 259.1H307.90000000000003Z" fill="#77AC30"/>
<path d="M327.73 300.4L333.13 291.0H322.33000000000004Z" fill="#77AC30"/>
<path d="M342.16 326.5L347.56 317.1H336.76000000000005Z" fill="#77AC30"/>
<path d="M356.59 341.09999999999997L361.98999999999995 331.7H351.19Z" fill="#77AC30"/>
<path d="M371.02 354.5L376.41999999999996 345.1H365.62Z" fill="#77AC30"/>
<path d="M385.45 367.3L390.84999999999997 357.90000000000003H380.05Z" fill="#77AC30"/>
<path d="M399.88 381.8L405.28 372.40000000000003H394.48Z" fill="#77AC30"/>
<path d="M414.31 386.59999999999997L419.71 377.2H408.91Z" fill="#77AC30"/>
<path d="M428.74 396.7L434.14 387.3H423.34000000000003Z" fill="#77AC30"/>
<path d="M443.17 403.7L448.57 394.3H437.77000000000004Z" fill="#77AC30"/>
<path d="M457.6 406.8L463.0 397.40000000000003H452.20000000000005Z" fill="#77AC30"/>
<path d="M472.03 409.8L477.42999999999995 400.40000000000003H466.63Z" fill="#77AC30"/>
<path d="M486.46 412.9L491.85999999999996 403.5H481.06Z" fill="#77AC30"/>
<path d="M500.89 415.8L506.28999999999996 406.40000000000003H495.49Z" fill="#77AC30"/>
<path d="M515.32 417.7L520.72 408.3H509.9200000000001Z" fill="#77AC30"/>
<path d="M529.75 418.9L535.15 409.5H524.35Z" fill="#77AC30"/>
<path d="M544.18 419.7L549.5799999999999 410.3H538.78Z" fill="#77AC30"/>
<polyline points="313.3,257 327.73,288.5 342.16,314.8 356.59,326.6 371.02,340 385.45,350.5 399.88,364.9 414.31,370.2 428.74,382.3 443.17,389.2 457.6,392.4 472.03,396.4 486.46,400.8 500.89,404.8 515.32,407.2 529.75,408.8 544.18,410.4" fill="none" stroke="#4DBEEE" stroke-width="1.5" stroke-linejoin="round"/>
<path d="M308.7 257H317.90000000000003M313.3 252.4V261.6" stroke="#4DBEEE" stroke-width="1.25" fill="none"/>
<path d="M323.13 288.5H332.33000000000004M327.73 283.9V293.1" stroke="#4DBEEE" stroke-width="1.25" fill="none"/>
<path d="M337.56 314.8H346.76000000000005M342.16 310.2V319.40000000000003" stroke="#4DBEEE" stroke-width="1.25" fill="none"/>
<path d="M351.98999999999995 326.6H361.19M356.59 322.0V331.20000000000005" stroke="#4DBEEE" stroke-width="1.25" fill="none"/>
<path d="M366.41999999999996 340H375.62M371.02 335.4V344.6" stroke="#4DBEEE" stroke-width="1.25" fill="none"/>
<path d="M380.84999999999997 350.5H390.05M385.45 345.9V355.1" stroke="#4DBEEE" stroke-width="1.25" fill="none"/>
<path d="M395.28 364.9H404.48M399.88 360.29999999999995V369.5" stroke="#4DBEEE" stroke-width="1.25" fill="none"/>
<path d="M409.71 370.2H418.91M414.31 365.59999999999997V374.8" stroke="#4DBEEE" stroke-width="1.25" fill="none"/>
<path d="M424.14 382.3H433.34000000000003M428.74 377.7V386.90000000000003" stroke="#4DBEEE" stroke-width="1.25" fill="none"/>
<path d="M438.57 389.2H447.77000000000004M443.17 384.59999999999997V393.8" stroke="#4DBEEE" stroke-width="1.25" fill="none"/>
<path d="M453.0 392.4H462.20000000000005M457.6 387.79999999999995V397.0" stroke="#4DBEEE" stroke-width="1.25" fill="none"/>
<path d="M467.42999999999995 396.4H476.63M472.03 391.79999999999995V401.0" stroke="#4DBEEE" stroke-width="1.25" fill="none"/>
<path d="M481.85999999999996 400.8H491.06M486.46 396.2V405.40000000000003" stroke="#4DBEEE" stroke-width="1.25" fill="none"/>
<path d="M496.28999999999996 404.8H505.49M500.89 400.2V409.40000000000003" stroke="#4DBEEE" stroke-width="1.25" fill="none"/>
<path d="M510.72 407.2H519.9200000000001M515.32 402.59999999999997V411.8" stroke="#4DBEEE" stroke-width="1.25" fill="none"/>
<path d="M525.15 408.8H534.35M529.75 404.2V413.40000000000003" stroke="#4DBEEE" stroke-width="1.25" fill="none"/>
<path d="M539.5799999999999 410.4H548.78M544.18 405.79999999999995V415.0" stroke="#4DBEEE" stroke-width="1.25" fill="none"/>
<polyline points="313.3,245.9 327.73,278.9 342.16,308.8 356.59,321.6 371.02,329.3 385.45,342 399.88,352.8 414.31,359.1 428.74,367.8 443.17,375.9 457.6,380.4 472.03,385.9 486.46,390.5 500.89,396 515.32,400.8 529.75,402.9 544.18,404" fill="none" stroke="#A2142F" stroke-width="1.5" stroke-linejoin="round"/>
<path d="M310.35 242.95000000000002L316.25 248.85M310.35 248.85L316.25 242.95000000000002" stroke="#A2142F" stroke-width="1.25" fill="none"/>
<path d="M324.78000000000003 275.95L330.68 281.84999999999997M324.78000000000003 281.84999999999997L330.68 275.95" stroke="#A2142F" stroke-width="1.25" fill="none"/>
<path d="M339.21000000000004 305.85L345.11 311.75M339.21000000000004 311.75L345.11 305.85" stroke="#A2142F" stroke-width="1.25" fill="none"/>
<path d="M353.64 318.65000000000003L359.53999999999996 324.55M353.64 324.55L359.53999999999996 318.65000000000003" stroke="#A2142F" stroke-width="1.25" fill="none"/>
<path d="M368.07 326.35L373.96999999999997 332.25M368.07 332.25L373.96999999999997 326.35" stroke="#A2142F" stroke-width="1.25" fill="none"/>
<path d="M382.5 339.05L388.4 344.95M382.5 344.95L388.4 339.05" stroke="#A2142F" stroke-width="1.25" fill="none"/>
<path d="M396.93 349.85L402.83 355.75M396.93 355.75L402.83 349.85" stroke="#A2142F" stroke-width="1.25" fill="none"/>
<path d="M411.36 356.15000000000003L417.26 362.05M411.36 362.05L417.26 356.15000000000003" stroke="#A2142F" stroke-width="1.25" fill="none"/>
<path d="M425.79 364.85L431.69 370.75M425.79 370.75L431.69 364.85" stroke="#A2142F" stroke-width="1.25" fill="none"/>
<path d="M440.22 372.95L446.12 378.84999999999997M440.22 378.84999999999997L446.12 372.95" stroke="#A2142F" stroke-width="1.25" fill="none"/>
<path d="M454.65000000000003 377.45L460.55 383.34999999999997M454.65000000000003 383.34999999999997L460.55 377.45" stroke="#A2142F" stroke-width="1.25" fill="none"/>
<path d="M469.08 382.95L474.97999999999996 388.84999999999997M469.08 388.84999999999997L474.97999999999996 382.95" stroke="#A2142F" stroke-width="1.25" fill="none"/>
<path d="M483.51 387.55L489.40999999999997 393.45M483.51 393.45L489.40999999999997 387.55" stroke="#A2142F" stroke-width="1.25" fill="none"/>
<path d="M497.94 393.05L503.84 398.95M497.94 398.95L503.84 393.05" stroke="#A2142F" stroke-width="1.25" fill="none"/>
<path d="M512.37 397.85L518.2700000000001 403.75M512.37 403.75L518.2700000000001 397.85" stroke="#A2142F" stroke-width="1.25" fill="none"/>
<path d="M526.8 399.95L532.7 405.84999999999997M526.8 405.84999999999997L532.7 399.95" stroke="#A2142F" stroke-width="1.25" fill="none"/>
<path d="M541.2299999999999 401.05L547.13 406.95M541.2299999999999 406.95L547.13 401.05" stroke="#A2142F" stroke-width="1.25" fill="none"/>
<rect x="481.2" y="238.45" width="60.45" height="92.95" fill="#fff" stroke="#222" stroke-width="1.05"/>
<path d="M483.59999999999997 245.5H499.8" stroke="#0072BD" stroke-width="1.3" fill="none"/>
<path d="M487.09999999999997 245.5H496.3M491.7 240.9V250.1M488.45 242.25L494.95 248.75M488.45 248.75L494.95 242.25" stroke="#0072BD" stroke-width="1.25" fill="none"/>
<text x="501.20" y="249.00" class="l a">α</text><text x="510.90" y="249.00" class="l" style="stroke-width:0.25px" textLength="9.27" lengthAdjust="spacingAndGlyphs">=</text><text x="522.00" y="249.00" class="l">0.0</text>
<path d="M483.59999999999997 258.6H499.8" stroke="#D95319" stroke-width="1.3" fill="none"/>
<circle cx="491.7" cy="258.6" r="4.45" fill="#D95319"/>
<text x="501.20" y="262.10" class="l a">α</text><text x="510.90" y="262.10" class="l" style="stroke-width:0.25px" textLength="9.27" lengthAdjust="spacingAndGlyphs">=</text><text x="522.00" y="262.10" class="l">0.5</text>
<path d="M483.59999999999997 271.7H499.8" stroke="#EDB120" stroke-width="1.3" fill="none"/>
<rect x="488.09999999999997" y="268.09999999999997" width="7.2" height="7.2" fill="#EDB120"/>
<text x="501.20" y="275.20" class="l a">α</text><text x="510.90" y="275.20" class="l" style="stroke-width:0.25px" textLength="9.27" lengthAdjust="spacingAndGlyphs">=</text><text x="522.00" y="275.20" class="l">1.0</text>
<path d="M483.59999999999997 284.8H499.8" stroke="#7E2F8E" stroke-width="1.3" fill="none"/>
<path d="M491.7 278.6L497.09999999999997 288.0H486.3Z" fill="#7E2F8E"/>
<text x="501.20" y="288.30" class="l a">α</text><text x="510.90" y="288.30" class="l" style="stroke-width:0.25px" textLength="9.27" lengthAdjust="spacingAndGlyphs">=</text><text x="522.00" y="288.30" class="l">1.5</text>
<path d="M483.59999999999997 297.9H499.8" stroke="#77AC30" stroke-width="1.3" fill="none"/>
<path d="M491.7 304.09999999999997L497.09999999999997 294.7H486.3Z" fill="#77AC30"/>
<text x="501.20" y="301.40" class="l a">α</text><text x="510.90" y="301.40" class="l" style="stroke-width:0.25px" textLength="9.27" lengthAdjust="spacingAndGlyphs">=</text><text x="522.00" y="301.40" class="l">2.0</text>
<path d="M483.59999999999997 311.0H499.8" stroke="#4DBEEE" stroke-width="1.3" fill="none"/>
<path d="M487.09999999999997 311.0H496.3M491.7 306.4V315.6" stroke="#4DBEEE" stroke-width="1.25" fill="none"/>
<text x="501.20" y="314.50" class="l a">α</text><text x="510.90" y="314.50" class="l" style="stroke-width:0.25px" textLength="9.27" lengthAdjust="spacingAndGlyphs">=</text><text x="522.00" y="314.50" class="l">3.0</text>
<path d="M483.59999999999997 324.1H499.8" stroke="#A2142F" stroke-width="1.3" fill="none"/>
<path d="M488.75 321.15000000000003L494.65 327.05M488.75 327.05L494.65 321.15000000000003" stroke="#A2142F" stroke-width="1.25" fill="none"/>
<text x="501.20" y="327.60" class="l a">α</text><text x="510.90" y="327.60" class="l" style="stroke-width:0.25px" textLength="9.27" lengthAdjust="spacingAndGlyphs">=</text><text x="522.00" y="327.60" class="l">4.0</text>
<text x="68.35" y="457.3" class="c p">(</text><text x="72.90" y="457.3" class="c i" textLength="8.9" lengthAdjust="spacingAndGlyphs">d</text><text x="82.88" y="457.3" class="c">,</text><text x="88.40" y="457.3" class="c i" textLength="7.95" lengthAdjust="spacingAndGlyphs">k</text><text x="97.38" y="457.3" class="c">,</text><text x="102.17" y="457.3" class="c i" textLength="8.9" lengthAdjust="spacingAndGlyphs">n</text><text x="111.70" y="457.3" class="c p">)</text><text x="119.95" y="457.3" class="c" textLength="13.2" lengthAdjust="spacingAndGlyphs">=</text><text x="137.35" y="457.3" class="c p">(</text><text x="142.38" y="457.3" class="c">8</text><text x="150.97" y="457.3" class="c">,</text><text x="156.47" y="457.3" class="c">22</text><text x="172.97" y="457.3" class="c">,</text><text x="179.82" y="457.3" class="c">1843</text><text x="211.10" y="457.3" class="c p">)</text>
<text x="352.05" y="457.3" class="c p">(</text><text x="356.90" y="457.3" class="c i" textLength="8.9" lengthAdjust="spacingAndGlyphs">d</text><text x="367.38" y="457.3" class="c">,</text><text x="372.40" y="457.3" class="c i" textLength="7.95" lengthAdjust="spacingAndGlyphs">k</text><text x="381.48" y="457.3" class="c">,</text><text x="386.07" y="457.3" class="c i" textLength="8.9" lengthAdjust="spacingAndGlyphs">n</text><text x="395.60" y="457.3" class="c p">)</text><text x="403.75" y="457.3" class="c" textLength="13.2" lengthAdjust="spacingAndGlyphs">=</text><text x="420.85" y="457.3" class="c p">(</text><text x="426.43" y="457.3" class="c">16</text><text x="442.88" y="457.3" class="c">,</text><text x="448.12" y="457.3" class="c">13</text><text x="464.18" y="457.3" class="c">,</text><text x="470.05" y="457.3" class="c">4129</text><text x="501.90" y="457.3" class="c p">)</text>
</svg>
</body></html>
